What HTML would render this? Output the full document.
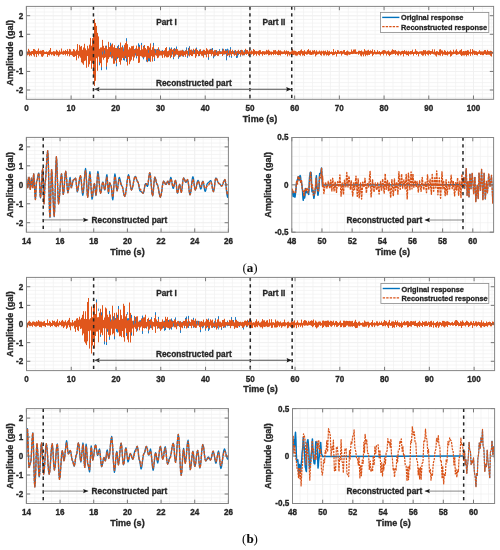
<!DOCTYPE html>
<html><head><meta charset="utf-8"><title>Figure</title>
<style>html,body{margin:0;padding:0;background:#fff;width:500px;height:550px;overflow:hidden} svg{display:block}</style>
</head><body>
<svg width="500" height="550" viewBox="0 0 500 550">
<style>text{font-family:'Liberation Sans', Arial, Helvetica, sans-serif;font-weight:bold;fill:#262626;stroke:#262626;stroke-width:0.3px} .tk{font-size:8.1px} .lb{font-size:9.05px} .lg{font-size:7.35px} .an{font-size:8.25px} .cap{font-family:"Liberation Serif","Times New Roman",serif;font-size:13px;fill:#111;stroke:#111;stroke-width:0.15px} .pr{font-weight:normal;stroke-width:0}</style>
<rect width="500" height="550" fill="#fff"/>
<filter id="bl" x="0" y="0" width="500" height="550" filterUnits="userSpaceOnUse"><feGaussianBlur stdDeviation="0.4"/></filter><g filter="url(#bl)">
<defs>
<clipPath id="cA1"><rect x="26.4" y="6.4" width="467.20000000000005" height="92.89999999999999"/></clipPath>
<clipPath id="cA2"><rect x="26.4" y="137.4" width="202.0" height="94.79999999999998"/></clipPath>
<clipPath id="cA3"><rect x="291.8" y="137.5" width="201.8" height="94.69999999999999"/></clipPath>
<clipPath id="cB1"><rect x="26.5" y="277.4" width="468.1" height="93.20000000000005"/></clipPath>
<clipPath id="cB2"><rect x="26.4" y="408.6" width="202.0" height="94.89999999999998"/></clipPath>
<clipPath id="cB3"><rect x="292.5" y="408.6" width="202.10000000000002" height="94.89999999999998"/></clipPath>
</defs>
<path d="M35.34 6.40V99.30M44.28 6.40V99.30M53.22 6.40V99.30M62.17 6.40V99.30M71.11 6.40V99.30M80.05 6.40V99.30M88.99 6.40V99.30M97.93 6.40V99.30M106.87 6.40V99.30M115.82 6.40V99.30M124.76 6.40V99.30M133.70 6.40V99.30M142.64 6.40V99.30M151.58 6.40V99.30M160.52 6.40V99.30M169.47 6.40V99.30M178.41 6.40V99.30M187.35 6.40V99.30M196.29 6.40V99.30M205.23 6.40V99.30M214.17 6.40V99.30M223.12 6.40V99.30M232.06 6.40V99.30M241.00 6.40V99.30M249.94 6.40V99.30M258.88 6.40V99.30M267.82 6.40V99.30M276.77 6.40V99.30M285.71 6.40V99.30M294.65 6.40V99.30M303.59 6.40V99.30M312.53 6.40V99.30M321.47 6.40V99.30M330.42 6.40V99.30M339.36 6.40V99.30M348.30 6.40V99.30M357.24 6.40V99.30M366.18 6.40V99.30M375.12 6.40V99.30M384.07 6.40V99.30M393.01 6.40V99.30M401.95 6.40V99.30M410.89 6.40V99.30M419.83 6.40V99.30M428.77 6.40V99.30M437.71 6.40V99.30M446.66 6.40V99.30M455.60 6.40V99.30M464.54 6.40V99.30M473.48 6.40V99.30M482.42 6.40V99.30M491.36 6.40V99.30M26.40 97.44H493.60M26.40 93.73H493.60M26.40 90.01H493.60M26.40 86.29H493.60M26.40 82.58H493.60M26.40 78.86H493.60M26.40 75.15H493.60M26.40 71.43H493.60M26.40 67.71H493.60M26.40 64.00H493.60M26.40 60.28H493.60M26.40 56.57H493.60M26.40 52.85H493.60M26.40 49.13H493.60M26.40 45.42H493.60M26.40 41.70H493.60M26.40 37.99H493.60M26.40 34.27H493.60M26.40 30.55H493.60M26.40 26.84H493.60M26.40 23.12H493.60M26.40 19.41H493.60M26.40 15.69H493.60M26.40 11.97H493.60M26.40 8.26H493.60" stroke="#f1f1f1" stroke-width="0.7" fill="none"/>
<path d="M71.11 6.40V99.30M115.82 6.40V99.30M160.52 6.40V99.30M205.23 6.40V99.30M249.94 6.40V99.30M294.65 6.40V99.30M339.36 6.40V99.30M384.07 6.40V99.30M428.77 6.40V99.30M473.48 6.40V99.30M26.40 90.01H493.60M26.40 71.43H493.60M26.40 52.85H493.60M26.40 34.27H493.60M26.40 15.69H493.60" stroke="#efefef" stroke-width="0.7" fill="none"/>
<path d="M34.82 137.40V232.20M43.23 137.40V232.20M51.65 137.40V232.20M60.07 137.40V232.20M68.48 137.40V232.20M76.90 137.40V232.20M85.32 137.40V232.20M93.73 137.40V232.20M102.15 137.40V232.20M110.57 137.40V232.20M118.98 137.40V232.20M127.40 137.40V232.20M135.82 137.40V232.20M144.23 137.40V232.20M152.65 137.40V232.20M161.07 137.40V232.20M169.48 137.40V232.20M177.90 137.40V232.20M186.32 137.40V232.20M194.73 137.40V232.20M203.15 137.40V232.20M211.57 137.40V232.20M219.98 137.40V232.20M26.40 230.30H228.40M26.40 226.51H228.40M26.40 222.72H228.40M26.40 218.93H228.40M26.40 215.14H228.40M26.40 211.34H228.40M26.40 207.55H228.40M26.40 203.76H228.40M26.40 199.97H228.40M26.40 196.18H228.40M26.40 192.38H228.40M26.40 188.59H228.40M26.40 184.80H228.40M26.40 181.01H228.40M26.40 177.22H228.40M26.40 173.42H228.40M26.40 169.63H228.40M26.40 165.84H228.40M26.40 162.05H228.40M26.40 158.26H228.40M26.40 154.46H228.40M26.40 150.67H228.40M26.40 146.88H228.40M26.40 143.09H228.40M26.40 139.30H228.40" stroke="#f1f1f1" stroke-width="0.7" fill="none"/>
<path d="M60.07 137.40V232.20M93.73 137.40V232.20M127.40 137.40V232.20M161.07 137.40V232.20M194.73 137.40V232.20M26.40 222.72H228.40M26.40 203.76H228.40M26.40 184.80H228.40M26.40 165.84H228.40M26.40 146.88H228.40" stroke="#efefef" stroke-width="0.7" fill="none"/>
<path d="M299.34 137.50V232.20M306.88 137.50V232.20M314.42 137.50V232.20M321.96 137.50V232.20M329.51 137.50V232.20M337.05 137.50V232.20M344.59 137.50V232.20M352.13 137.50V232.20M359.67 137.50V232.20M367.21 137.50V232.20M374.75 137.50V232.20M382.29 137.50V232.20M389.83 137.50V232.20M397.38 137.50V232.20M404.92 137.50V232.20M412.46 137.50V232.20M420.00 137.50V232.20M427.54 137.50V232.20M435.08 137.50V232.20M442.62 137.50V232.20M450.16 137.50V232.20M457.70 137.50V232.20M465.25 137.50V232.20M472.79 137.50V232.20M480.33 137.50V232.20M487.87 137.50V232.20M291.80 222.73H493.60M291.80 213.26H493.60M291.80 203.79H493.60M291.80 194.32H493.60M291.80 184.85H493.60M291.80 175.38H493.60M291.80 165.91H493.60M291.80 156.44H493.60M291.80 146.97H493.60" stroke="#f1f1f1" stroke-width="0.7" fill="none"/>
<path d="M321.96 137.50V232.20M352.13 137.50V232.20M382.29 137.50V232.20M412.46 137.50V232.20M442.62 137.50V232.20M472.79 137.50V232.20M291.80 184.85H493.60" stroke="#efefef" stroke-width="0.7" fill="none"/>
<path d="M35.45 277.40V370.60M44.40 277.40V370.60M53.36 277.40V370.60M62.31 277.40V370.60M71.26 277.40V370.60M80.21 277.40V370.60M89.16 277.40V370.60M98.12 277.40V370.60M107.07 277.40V370.60M116.02 277.40V370.60M124.97 277.40V370.60M133.92 277.40V370.60M142.88 277.40V370.60M151.83 277.40V370.60M160.78 277.40V370.60M169.73 277.40V370.60M178.68 277.40V370.60M187.64 277.40V370.60M196.59 277.40V370.60M205.54 277.40V370.60M214.49 277.40V370.60M223.44 277.40V370.60M232.40 277.40V370.60M241.35 277.40V370.60M250.30 277.40V370.60M259.25 277.40V370.60M268.20 277.40V370.60M277.16 277.40V370.60M286.11 277.40V370.60M295.06 277.40V370.60M304.01 277.40V370.60M312.96 277.40V370.60M321.92 277.40V370.60M330.87 277.40V370.60M339.82 277.40V370.60M348.77 277.40V370.60M357.72 277.40V370.60M366.68 277.40V370.60M375.63 277.40V370.60M384.58 277.40V370.60M393.53 277.40V370.60M402.48 277.40V370.60M411.44 277.40V370.60M420.39 277.40V370.60M429.34 277.40V370.60M438.29 277.40V370.60M447.24 277.40V370.60M456.20 277.40V370.60M465.15 277.40V370.60M474.10 277.40V370.60M483.05 277.40V370.60M492.00 277.40V370.60M26.50 368.74H494.60M26.50 365.01H494.60M26.50 361.28H494.60M26.50 357.55H494.60M26.50 353.82H494.60M26.50 350.10H494.60M26.50 346.37H494.60M26.50 342.64H494.60M26.50 338.91H494.60M26.50 335.18H494.60M26.50 331.46H494.60M26.50 327.73H494.60M26.50 324.00H494.60M26.50 320.27H494.60M26.50 316.54H494.60M26.50 312.82H494.60M26.50 309.09H494.60M26.50 305.36H494.60M26.50 301.63H494.60M26.50 297.90H494.60M26.50 294.18H494.60M26.50 290.45H494.60M26.50 286.72H494.60M26.50 282.99H494.60M26.50 279.26H494.60" stroke="#f1f1f1" stroke-width="0.7" fill="none"/>
<path d="M71.26 277.40V370.60M116.02 277.40V370.60M160.78 277.40V370.60M205.54 277.40V370.60M250.30 277.40V370.60M295.06 277.40V370.60M339.82 277.40V370.60M384.58 277.40V370.60M429.34 277.40V370.60M474.10 277.40V370.60M26.50 361.28H494.60M26.50 342.64H494.60M26.50 324.00H494.60M26.50 305.36H494.60M26.50 286.72H494.60" stroke="#efefef" stroke-width="0.7" fill="none"/>
<path d="M34.82 408.60V503.50M43.23 408.60V503.50M51.65 408.60V503.50M60.07 408.60V503.50M68.48 408.60V503.50M76.90 408.60V503.50M85.32 408.60V503.50M93.73 408.60V503.50M102.15 408.60V503.50M110.57 408.60V503.50M118.98 408.60V503.50M127.40 408.60V503.50M135.82 408.60V503.50M144.23 408.60V503.50M152.65 408.60V503.50M161.07 408.60V503.50M169.48 408.60V503.50M177.90 408.60V503.50M186.32 408.60V503.50M194.73 408.60V503.50M203.15 408.60V503.50M211.57 408.60V503.50M219.98 408.60V503.50M26.40 501.60H228.40M26.40 497.81H228.40M26.40 494.01H228.40M26.40 490.21H228.40M26.40 486.42H228.40M26.40 482.62H228.40M26.40 478.83H228.40M26.40 475.03H228.40M26.40 471.23H228.40M26.40 467.44H228.40M26.40 463.64H228.40M26.40 459.85H228.40M26.40 456.05H228.40M26.40 452.25H228.40M26.40 448.46H228.40M26.40 444.66H228.40M26.40 440.87H228.40M26.40 437.07H228.40M26.40 433.27H228.40M26.40 429.48H228.40M26.40 425.68H228.40M26.40 421.89H228.40M26.40 418.09H228.40M26.40 414.29H228.40M26.40 410.50H228.40" stroke="#f1f1f1" stroke-width="0.7" fill="none"/>
<path d="M60.07 408.60V503.50M93.73 408.60V503.50M127.40 408.60V503.50M161.07 408.60V503.50M194.73 408.60V503.50M26.40 494.01H228.40M26.40 475.03H228.40M26.40 456.05H228.40M26.40 437.07H228.40M26.40 418.09H228.40" stroke="#efefef" stroke-width="0.7" fill="none"/>
<path d="M300.04 408.60V503.50M307.58 408.60V503.50M315.12 408.60V503.50M322.66 408.60V503.50M330.21 408.60V503.50M337.75 408.60V503.50M345.29 408.60V503.50M352.83 408.60V503.50M360.37 408.60V503.50M367.91 408.60V503.50M375.45 408.60V503.50M382.99 408.60V503.50M390.53 408.60V503.50M398.07 408.60V503.50M405.62 408.60V503.50M413.16 408.60V503.50M420.70 408.60V503.50M428.24 408.60V503.50M435.78 408.60V503.50M443.32 408.60V503.50M450.86 408.60V503.50M458.40 408.60V503.50M465.94 408.60V503.50M473.49 408.60V503.50M481.03 408.60V503.50M488.57 408.60V503.50M292.50 494.01H494.60M292.50 484.52H494.60M292.50 475.03H494.60M292.50 465.54H494.60M292.50 456.05H494.60M292.50 446.56H494.60M292.50 437.07H494.60M292.50 427.58H494.60M292.50 418.09H494.60" stroke="#f1f1f1" stroke-width="0.7" fill="none"/>
<path d="M322.66 408.60V503.50M352.83 408.60V503.50M382.99 408.60V503.50M413.16 408.60V503.50M443.32 408.60V503.50M473.49 408.60V503.50M292.50 456.05H494.60" stroke="#efefef" stroke-width="0.7" fill="none"/>
<path d="M92.5 38.4V63.1M93.5 34.9V74.8M94.5 18.9V85.8M95.5 27.4V76.7M96.5 29.9V57.4M97.5 35.9V68.2M98.5 38.9V56.1M99.5 49.4V65.3M100.5 48.3V61.6M101.5 48.3V70.2M102.5 41.8V56.8M103.5 46.9V58.7M104.5 48.8V57.3M105.5 46.8V56.6M106.5 45.6V69.6M107.5 49.7V61.1M108.5 43.5V58.2M109.5 48.0V56.6M110.5 42.8V56.2M111.5 45.8V57.5M112.5 44.9V56.5M113.5 48.1V62.2M114.5 46.4V62.1M115.5 48.7V60.7M116.5 48.8V66.3M117.5 46.2V58.8M118.5 44.9V57.2M119.5 48.0V60.5M120.5 44.1V63.0M121.5 48.1V59.3M122.5 45.5V57.2M123.5 49.8V60.1M124.5 46.0V60.6M125.5 44.5V58.1M126.5 38.2V61.8M127.5 45.5V63.6M128.5 50.0V56.4M129.5 48.0V62.5M130.5 49.0V60.1M131.5 47.2V58.8M132.5 47.2V56.0M133.5 46.8V59.5M134.5 49.1V56.8M135.5 49.1V55.0M136.5 46.7V58.4M137.5 49.4V55.6M138.5 43.3V61.4M139.5 44.8V61.1M140.5 50.6V55.7M141.5 42.9V55.9M142.5 49.8V56.9M143.5 45.8V59.3M144.5 46.2V56.7M145.5 48.7V56.1M146.5 50.0V61.6M147.5 47.0V60.8M148.5 47.1V61.2M149.5 48.3V61.2M150.5 44.8V60.5M151.5 50.3V55.6M152.5 48.2V60.2M153.5 42.9V56.2M154.5 48.8V61.0M155.5 49.8V54.9M156.5 49.9V55.3M157.5 48.9V57.4M158.5 48.1V56.9M159.5 49.5V55.2M160.5 51.1V55.0M161.5 51.0V55.1M162.5 50.1V57.2M163.5 51.2V54.3M164.5 50.7V56.9M165.5 48.8V55.7M166.5 48.0V56.6M167.5 51.6V56.8M168.5 51.0V56.5M169.5 47.4V55.1M170.5 49.4V57.4M171.5 47.5V56.8M172.5 50.2V54.2M173.5 49.5V59.2M174.5 48.7V56.1M175.5 49.4V55.7M176.5 46.5V54.3M177.5 49.8V54.5M178.5 51.0V58.8M179.5 51.0V57.2M180.5 50.9V56.0M181.5 50.8V55.7M182.5 50.3V55.9M183.5 50.4V56.8M184.5 51.6V54.8M185.5 50.2V56.2M186.5 47.4V54.0M187.5 51.2V57.8M188.5 47.9V55.5M189.5 46.2V55.9M190.5 50.3V54.6M191.5 50.0V55.5M192.5 50.4V55.6M193.5 49.4V54.0M194.5 50.6V53.9M195.5 49.2V57.1M196.5 47.6V55.7M197.5 50.5V53.9M198.5 51.5V56.2M199.5 49.6V55.5M200.5 49.8V54.0M201.5 51.5V55.2M202.5 50.6V55.4M203.5 50.1V56.9M204.5 50.3V54.8M205.5 51.3V54.5M206.5 48.9V56.6M207.5 49.9V54.2M208.5 50.9V59.8M209.5 50.0V53.8M210.5 48.9V53.8M211.5 49.3V55.3M212.5 48.0V54.0M213.5 51.3V58.3M214.5 50.6V56.6M215.5 50.5V55.3M216.5 50.5V54.6M217.5 51.6V55.4M218.5 51.4V55.3M219.5 49.2V54.0M220.5 51.2V54.2M221.5 51.7V53.9M222.5 48.6V55.5M223.5 49.4V54.6M224.5 51.0V54.1M225.5 49.1V54.0M226.5 49.4V60.3M227.5 48.7V55.5M228.5 51.4V54.8M229.5 50.8V57.3M230.5 47.2V54.6M231.5 51.1V57.8M232.5 50.2V53.8M233.5 51.4V54.2M234.5 51.3V55.2M235.5 50.5V54.5M236.5 51.3V58.0M237.5 51.1V57.7M238.5 50.2V55.2M239.5 51.5V53.8M240.5 50.5V56.6M241.5 50.2V54.2M242.5 50.7V55.1M243.5 51.7V55.4M244.5 51.8V54.9M245.5 49.4V53.9M246.5 50.4V54.8M247.5 50.4V53.7M248.5 51.7V55.3M249.5 50.3V52.9" stroke="#1a7cc8" stroke-width="1.0" fill="none" clip-path="url(#cA1)"/>
<path d="M26.5 51.1V53.9M27.5 51.5V55.4M28.5 48.8V54.7M29.5 50.4V56.2M30.5 51.7V55.2M31.5 51.1V55.8M32.5 51.0V54.0M33.5 49.0V55.3M34.5 49.2V56.7M35.5 50.2V54.1M36.5 51.0V57.1M37.5 50.6V54.0M38.5 48.5V55.5M39.5 51.1V53.8M40.5 50.5V54.2M41.5 50.7V56.5M42.5 50.1V56.9M43.5 50.0V55.6M44.5 51.6V54.1M45.5 51.9V54.0M46.5 51.4V54.0M47.5 51.9V56.9M48.5 51.3V55.0M49.5 50.1V55.5M50.5 48.0V54.1M51.5 51.8V55.3M52.5 51.8V54.5M53.5 51.1V55.6M54.5 51.3V56.0M55.5 51.5V54.3M56.5 49.8V55.4M57.5 50.8V55.2M58.5 51.8V56.7M59.5 50.3V55.4M60.5 51.7V54.5M61.5 48.5V54.1M62.5 51.5V54.5M63.5 50.6V54.9M64.5 51.1V54.2M65.5 50.0V55.4M66.5 51.0V54.0M67.5 49.2V55.8M68.5 51.3V54.0M69.5 48.9V56.3M70.5 49.4V54.9M71.5 51.5V55.0M72.5 51.3V55.8M73.5 49.0V57.0M74.5 49.6V56.9M75.5 51.2V56.0M76.5 49.7V60.3M77.5 44.1V54.9M78.5 50.8V58.4M79.5 44.9V56.3M80.5 46.6V57.7M81.5 46.0V62.3M82.5 49.8V63.4M83.5 47.5V64.8M84.5 43.8V61.1M85.5 48.5V60.5M86.5 50.2V67.8M87.5 45.8V56.0M88.5 48.5V66.8M89.5 44.7V64.3M90.5 37.9V60.8M91.5 45.7V68.8M92.5 38.4V63.1M93.5 34.9V74.8M94.5 18.9V85.8M95.5 22.9V80.8M96.5 25.9V58.2M97.5 32.9V70.8M98.5 36.4V56.7M99.5 48.8V62.3M100.5 47.5V63.2M101.5 47.4V67.2M102.5 39.9V57.6M103.5 45.8V59.7M104.5 48.1V58.0M105.5 45.7V57.3M106.5 47.0V66.6M107.5 49.2V62.6M108.5 41.8V59.1M109.5 47.1V57.3M110.5 45.8V56.8M111.5 44.5V58.3M112.5 43.5V57.2M113.5 47.3V63.8M114.5 45.2V63.7M115.5 48.0V58.9M116.5 48.1V63.3M117.5 48.2V57.1M118.5 46.3V57.9M119.5 49.0V61.9M120.5 42.5V64.7M121.5 47.3V60.4M122.5 46.9V57.9M123.5 49.2V58.1M124.5 44.8V59.0M125.5 43.1V56.2M126.5 41.2V58.8M127.5 44.2V65.5M128.5 49.5V57.0M129.5 47.2V64.2M130.5 48.3V61.4M131.5 46.2V59.8M132.5 46.2V56.6M133.5 45.7V60.7M134.5 50.0V57.5M135.5 48.4V55.4M136.5 45.6V56.6M137.5 48.8V56.0M138.5 46.3V63.0M139.5 47.1V62.6M140.5 50.2V56.1M141.5 45.1V56.5M142.5 49.3V57.6M143.5 47.0V57.2M144.5 45.0V57.4M145.5 48.0V56.7M146.5 49.4V60.0M147.5 46.0V62.2M148.5 46.1V58.2M149.5 47.5V58.5M150.5 43.4V61.8M151.5 49.8V56.1M152.5 47.3V61.5M153.5 45.6V56.8M154.5 50.4V58.4M155.5 49.2V55.3M156.5 49.4V55.7M157.5 50.0V58.2M158.5 47.3V57.6M159.5 50.5V55.6M160.5 50.8V55.4M161.5 50.7V55.5M162.5 51.2V57.9M163.5 50.9V54.6M164.5 50.3V57.6M165.5 48.0V56.2M166.5 47.1V57.3M167.5 51.3V57.4M168.5 50.7V57.1M169.5 49.6V55.5M170.5 48.7V58.2M171.5 48.9V55.6M172.5 49.8V54.5M173.5 48.9V57.5M174.5 48.0V56.7M175.5 48.8V54.6M176.5 49.0V54.5M177.5 49.2V54.8M178.5 50.7V57.5M179.5 50.7V55.8M180.5 50.5V56.6M181.5 50.5V55.2M182.5 49.8V56.4M183.5 51.1V56.0M184.5 51.3V55.1M185.5 50.8V56.8M186.5 49.6V54.2M187.5 50.9V56.2M188.5 49.7V54.7M189.5 47.6V56.4M190.5 49.9V54.9M191.5 49.5V56.0M192.5 51.3V56.1M193.5 48.8V54.2M194.5 50.2V54.1M195.5 48.6V57.9M196.5 49.1V56.3M197.5 50.1V54.0M198.5 51.3V55.5M199.5 50.9V56.0M200.5 49.2V54.2M201.5 51.3V55.6M202.5 51.1V55.8M203.5 49.7V57.6M204.5 49.9V54.4M205.5 51.0V54.8M206.5 48.2V57.3M207.5 49.4V53.9M208.5 50.5V57.4M209.5 49.5V54.0M210.5 50.1V53.9M211.5 48.7V55.7M212.5 49.9V54.2M213.5 51.6V56.5M214.5 50.2V55.4M215.5 50.1V55.8M216.5 50.1V54.9M217.5 51.3V55.9M218.5 51.2V55.8M219.5 50.5V54.2M220.5 51.8V53.9M221.5 51.5V54.0M222.5 50.4V56.0M223.5 48.8V54.2M224.5 50.7V54.4M225.5 50.6V54.2M226.5 50.8V57.3M227.5 50.0V56.0M228.5 51.2V55.2M229.5 50.4V55.8M230.5 49.2V54.2M231.5 51.6V56.1M232.5 49.8V54.0M233.5 51.2V54.4M234.5 51.0V55.7M235.5 50.1V54.8M236.5 51.7V56.1M237.5 50.8V55.8M238.5 49.8V54.3M239.5 51.3V54.0M240.5 50.1V55.7M241.5 49.8V54.4M242.5 50.3V55.5M243.5 51.6V54.8M244.5 51.6V55.3M245.5 48.8V54.1M246.5 49.9V54.1M247.5 50.0V53.8M248.5 51.6V55.8M249.5 49.9V55.6M250.5 51.4V54.1M251.5 50.4V54.6M252.5 51.3V53.9M253.5 49.0V55.8M254.5 49.9V54.8M255.5 51.1V54.1M256.5 51.1V55.8M257.5 51.3V53.8M258.5 50.8V54.9M259.5 50.1V55.7M260.5 50.2V54.1M261.5 51.9V54.2M262.5 51.1V55.8M263.5 51.2V54.2M264.5 51.3V55.0M265.5 51.4V54.3M266.5 49.9V54.5M267.5 50.5V54.0M268.5 49.7V55.4M269.5 50.8V55.1M270.5 51.6V54.4M271.5 51.5V55.3M272.5 51.9V54.0M273.5 50.2V55.2M274.5 50.3V54.1M275.5 50.0V54.8M276.5 51.4V53.9M277.5 51.3V55.0M278.5 49.9V55.3M279.5 50.7V54.9M280.5 50.4V55.6M281.5 51.3V54.1M282.5 51.6V54.2M283.5 51.5V54.0M284.5 50.2V53.9M285.5 51.3V54.9M286.5 50.4V54.0M287.5 51.2V56.3M288.5 50.9V54.4M289.5 51.9V55.6M290.5 51.8V54.6M291.5 51.2V55.6M292.5 49.1V54.9M293.5 50.6V55.0M294.5 50.7V54.6M295.5 50.9V55.5M296.5 51.5V55.7M297.5 51.9V55.5M298.5 51.0V54.4M299.5 51.1V55.1M300.5 50.3V55.7M301.5 49.4V53.8M302.5 51.0V55.6M303.5 51.2V55.2M304.5 50.1V56.0M305.5 51.5V54.0M306.5 51.5V54.7M307.5 50.1V54.5M308.5 49.1V53.9M309.5 50.7V54.6M310.5 50.4V54.9M311.5 51.9V55.0M312.5 50.3V54.6M313.5 50.7V54.5M314.5 50.0V53.8M315.5 51.5V56.4M316.5 50.3V55.2M317.5 51.6V54.4M318.5 51.5V54.2M319.5 50.5V53.8M320.5 51.4V55.1M321.5 50.7V55.7M322.5 51.4V53.7M323.5 50.6V55.4M324.5 51.2V55.5M325.5 50.6V54.3M326.5 51.9V55.6M327.5 50.2V54.9M328.5 51.4V55.8M329.5 50.8V55.1M330.5 52.0V54.1M331.5 51.4V54.0M332.5 52.0V55.4M333.5 49.1V55.1M334.5 51.9V54.8M335.5 50.8V53.9M336.5 52.0V56.5M337.5 50.1V54.0M338.5 50.4V53.8M339.5 51.7V54.0M340.5 51.0V53.7M341.5 50.9V55.6M342.5 51.4V54.2M343.5 50.2V53.8M344.5 50.0V54.7M345.5 52.0V55.0M346.5 51.2V55.3M347.5 50.5V55.6M348.5 51.4V54.5M349.5 51.8V54.9M350.5 51.9V54.4M351.5 49.5V54.0M352.5 51.2V54.1M353.5 49.6V53.9M354.5 49.5V53.8M355.5 49.4V54.0M356.5 51.7V54.1M357.5 52.0V53.7M358.5 50.8V54.8M359.5 50.7V53.8M360.5 51.0V55.6M361.5 50.4V56.4M362.5 51.5V54.6M363.5 51.6V56.3M364.5 49.1V54.4M365.5 50.5V56.2M366.5 50.8V54.9M367.5 50.4V55.5M368.5 49.8V54.8M369.5 51.1V55.0M370.5 50.3V53.8M371.5 51.0V53.7M372.5 49.4V56.1M373.5 51.9V54.8M374.5 50.0V53.9M375.5 51.6V54.4M376.5 51.9V54.4M377.5 50.2V54.2M378.5 51.7V54.2M379.5 51.0V54.4M380.5 52.0V55.6M381.5 51.6V54.1M382.5 50.6V53.9M383.5 50.1V55.4M384.5 50.1V53.8M385.5 50.6V53.7M386.5 51.5V55.6M387.5 51.1V53.9M388.5 50.4V54.9M389.5 51.5V56.1M390.5 51.8V55.0M391.5 50.7V54.4M392.5 49.3V54.3M393.5 50.0V54.0M394.5 50.4V53.8M395.5 50.0V55.1M396.5 51.2V53.9M397.5 51.5V55.3M398.5 50.7V55.6M399.5 51.3V53.9M400.5 51.7V55.4M401.5 51.1V54.6M402.5 50.7V54.0M403.5 51.0V56.4M404.5 50.0V54.0M405.5 51.3V54.2M406.5 50.7V55.2M407.5 51.5V55.0M408.5 50.8V56.0M409.5 51.7V54.1M410.5 51.0V54.6M411.5 51.1V54.3M412.5 49.7V54.0M413.5 52.0V55.7M414.5 51.6V54.0M415.5 49.2V53.9M416.5 50.8V55.0M417.5 51.3V54.0M418.5 51.9V56.3M419.5 51.4V53.9M420.5 51.3V53.7M421.5 51.2V54.8M422.5 51.3V55.7M423.5 50.0V55.5M424.5 50.4V54.3M425.5 50.1V55.8M426.5 51.4V54.0M427.5 50.8V54.7M428.5 50.4V55.5M429.5 50.5V54.0M430.5 51.0V54.9M431.5 51.1V53.8M432.5 49.3V53.9M433.5 51.7V54.3M434.5 49.4V54.6M435.5 51.8V55.6M436.5 51.1V56.6M437.5 51.2V54.5M438.5 51.9V55.2M439.5 49.5V55.3M440.5 49.2V55.7M441.5 50.4V53.8M442.5 50.5V55.9M443.5 51.8V54.5M444.5 50.1V54.7M445.5 50.8V55.1M446.5 52.0V54.9M447.5 50.8V55.6M448.5 51.8V54.4M449.5 51.4V54.1M450.5 50.3V56.6M451.5 51.4V55.9M452.5 51.9V54.6M453.5 49.7V54.2M454.5 51.6V53.9M455.5 50.5V54.2M456.5 49.3V55.1M457.5 51.2V54.6M458.5 51.9V54.3M459.5 50.7V53.9M460.5 50.1V54.8M461.5 49.2V56.0M462.5 51.5V55.4M463.5 51.0V55.4M464.5 51.2V55.5M465.5 50.8V54.9M466.5 50.9V56.3M467.5 50.1V55.0M468.5 50.4V55.5M469.5 51.8V53.8M470.5 49.2V55.9M471.5 52.0V53.8M472.5 49.1V55.3M473.5 50.5V53.8M474.5 50.6V55.0M475.5 51.1V54.7M476.5 51.2V55.1M477.5 51.9V55.5M478.5 51.5V54.0M479.5 50.2V53.9M480.5 51.3V55.0M481.5 51.4V54.7M482.5 51.5V55.2M483.5 51.3V55.2M484.5 50.1V54.1M485.5 50.1V54.4M486.5 51.4V55.0M487.5 49.9V54.7M488.5 51.1V54.7M489.5 51.2V54.8M490.5 50.7V55.8M491.5 51.1V56.5M492.5 51.8V53.7" stroke="#E0561C" stroke-width="1.0" fill="none" clip-path="url(#cA1)"/>
<path d="M102.5 51.6v2.9M104.5 50.4v3.3M110.5 52.0v2.7M112.5 55.8v2.6M123.5 47.4v3.8M135.5 53.4v2.0M148.5 50.2v2.6M155.5 50.4v2.7M172.5 51.7v2.0M174.5 48.2v2.8M188.5 50.6v3.6M194.5 49.9v3.0M216.5 50.5v2.0M226.5 53.0v4.0M228.5 49.5v3.8M234.5 50.3v3.1M237.5 53.0v2.8M240.5 50.6v1.6M244.5 50.0v2.4" stroke="#2a7fc4" stroke-width="1" fill="none" opacity="0.8" clip-path="url(#cA1)"/>
<path d="M93.5 305.7V338.3M94.5 304.2V348.3M95.5 314.0V335.9M96.5 299.5V330.5M97.5 318.3V330.4M98.5 318.1V339.6M99.5 314.4V328.9M100.5 311.0V336.8M101.5 312.3V331.4M102.5 308.0V333.5M103.5 320.5V327.6M104.5 318.5V344.4M105.5 310.0V327.8M106.5 310.8V345.0M107.5 316.1V331.8M108.5 318.1V333.3M109.5 310.9V339.8M110.5 315.9V333.6M111.5 320.2V328.0M112.5 308.4V332.9M113.5 316.2V331.9M114.5 314.5V339.3M115.5 318.1V328.0M116.5 314.2V331.8M117.5 314.8V332.6M118.5 306.0V331.0M119.5 320.5V334.4M120.5 311.7V334.1M121.5 316.6V335.1M122.5 319.5V330.0M123.5 306.9V335.3M124.5 308.5V339.0M125.5 317.6V327.7M126.5 315.6V336.0M127.5 318.3V337.3M128.5 318.2V339.5M129.5 305.7V330.9M130.5 314.6V339.7M131.5 314.9V335.6M132.5 321.3V327.9M133.5 321.5V334.0M134.5 317.1V326.8M135.5 317.1V328.0M136.5 317.6V330.6M137.5 317.5V330.6M138.5 321.9V326.4M139.5 320.5V329.3M140.5 320.2V327.0M141.5 319.2V326.1M142.5 315.6V333.9M143.5 318.4V327.4M144.5 318.3V327.9M145.5 316.1V327.4M146.5 322.2V328.6M147.5 319.7V326.1M148.5 318.7V333.4M149.5 319.9V328.7M150.5 320.1V327.2M151.5 317.2V327.6M152.5 321.8V329.1M153.5 322.3V326.0M154.5 319.0V326.3M155.5 312.2V331.5M156.5 320.2V325.9M157.5 321.2V328.1M158.5 316.9V328.2M159.5 322.2V328.0M160.5 322.3V329.9M161.5 322.1V328.7M162.5 320.1V328.0M163.5 321.7V327.9M164.5 320.7V330.8M165.5 317.9V330.1M166.5 319.6V326.8M167.5 318.2V327.2M168.5 320.0V327.6M169.5 320.2V329.8M170.5 320.1V327.9M171.5 318.5V329.6M172.5 320.5V326.4M173.5 321.5V325.5M174.5 320.0V326.8M175.5 317.4V326.8M176.5 322.6V328.4M177.5 321.6V325.9M178.5 321.3V325.9M179.5 321.3V326.4M180.5 321.6V332.9M181.5 322.5V326.9M182.5 321.8V327.6M183.5 321.4V325.3M184.5 321.5V328.1M185.5 317.9V325.6M186.5 316.5V327.8M187.5 321.4V327.2M188.5 315.9V327.9M189.5 321.7V325.5M190.5 322.4V325.7M191.5 320.1V327.6M192.5 320.4V325.3M193.5 317.8V327.8M194.5 321.2V326.8M195.5 319.5V327.3M196.5 321.4V327.2M197.5 321.3V325.3M198.5 320.9V325.3M199.5 321.7V326.6M200.5 321.9V332.2M201.5 321.5V326.3M202.5 322.2V328.3M203.5 320.2V327.4M204.5 322.7V325.3M205.5 321.8V330.7M206.5 319.7V327.6M207.5 320.3V327.2M208.5 318.5V331.0M209.5 322.2V329.6M210.5 320.0V325.3M211.5 321.1V327.1M212.5 320.2V327.3M213.5 322.8V327.1M214.5 322.1V327.9M215.5 318.3V326.7M216.5 322.6V328.8M217.5 320.2V327.6M218.5 316.2V325.7M219.5 322.0V327.0M220.5 322.0V326.5M221.5 322.9V329.8M222.5 320.7V325.9M223.5 320.5V328.0M224.5 319.6V327.0M225.5 322.2V327.6M226.5 322.5V325.3M227.5 320.7V326.3M228.5 322.6V325.9M229.5 320.5V325.6M230.5 321.0V327.5M231.5 317.1V325.7M232.5 320.7V325.5M233.5 320.0V325.9M234.5 322.7V328.1M235.5 317.1V326.9M236.5 320.5V327.1M237.5 321.6V327.4M238.5 322.0V325.9M239.5 322.0V327.1M240.5 322.1V325.3M241.5 322.7V325.8M242.5 322.1V327.3M243.5 322.5V329.5M244.5 321.3V326.1M245.5 321.1V325.1M246.5 321.5V327.2M247.5 320.4V326.3M248.5 320.8V325.1M249.5 319.6V327.1M250.5 320.3V324.0" stroke="#1a7cc8" stroke-width="1.0" fill="none" clip-path="url(#cB1)"/>
<path d="M27.5 322.7V327.5M28.5 321.6V325.3M29.5 320.8V326.2M30.5 321.9V326.2M31.5 322.8V325.8M32.5 321.6V326.8M33.5 321.4V325.2M34.5 321.8V326.1M35.5 322.2V326.7M36.5 321.2V326.6M37.5 321.7V325.9M38.5 320.1V325.7M39.5 321.3V327.0M40.5 321.5V326.9M41.5 321.5V327.4M42.5 322.2V325.8M43.5 321.5V326.1M44.5 320.9V326.3M45.5 323.0V327.0M46.5 323.0V325.0M47.5 319.4V325.7M48.5 323.0V325.6M49.5 321.0V325.7M50.5 321.8V327.0M51.5 323.0V326.0M52.5 320.4V326.3M53.5 321.1V325.0M54.5 320.8V326.2M55.5 322.2V326.8M56.5 321.3V327.2M57.5 319.3V326.1M58.5 322.7V326.7M59.5 321.0V325.3M60.5 322.2V325.1M61.5 320.8V326.4M62.5 319.9V326.3M63.5 321.4V328.1M64.5 321.7V326.8M65.5 320.3V325.6M66.5 322.3V328.9M67.5 321.1V327.7M68.5 319.8V325.3M69.5 317.9V327.2M70.5 322.2V330.3M71.5 322.6V325.9M72.5 320.0V326.5M73.5 322.3V325.7M74.5 320.9V328.6M75.5 320.6V331.9M76.5 318.6V327.0M77.5 318.1V330.2M78.5 319.7V331.1M79.5 316.7V326.4M80.5 319.4V329.0M81.5 317.8V328.5M82.5 314.8V335.3M83.5 311.2V333.5M84.5 318.9V341.7M85.5 311.3V343.4M86.5 319.0V345.1M87.5 302.0V341.3M88.5 298.0V331.1M89.5 319.3V348.6M90.5 318.2V330.5M91.5 306.5V353.5M92.5 317.2V345.5M93.5 305.7V338.3M94.5 304.2V348.3M95.5 314.0V335.9M96.5 302.5V331.6M97.5 317.3V331.5M98.5 317.1V342.3M99.5 312.7V329.8M100.5 308.8V334.6M101.5 315.3V332.7M102.5 305.2V335.2M103.5 319.9V328.2M104.5 317.5V341.4M105.5 307.5V328.4M106.5 308.5V342.0M107.5 314.7V329.4M108.5 317.1V334.9M109.5 313.9V336.8M110.5 314.5V335.3M111.5 319.5V328.7M112.5 305.7V334.4M113.5 318.0V333.3M114.5 312.9V336.3M115.5 319.6V328.7M116.5 312.5V329.0M117.5 317.8V329.6M118.5 309.0V332.3M119.5 319.9V336.3M120.5 309.6V335.9M121.5 315.2V337.1M122.5 318.8V331.0M123.5 303.8V337.3M124.5 305.8V341.7M125.5 316.4V328.4M126.5 314.1V333.0M127.5 320.4V339.6M128.5 320.1V342.3M129.5 302.5V332.1M130.5 312.9V342.5M131.5 317.9V332.6M132.5 320.8V328.6M133.5 321.1V335.8M134.5 315.9V327.3M135.5 319.6V328.8M136.5 316.5V331.8M137.5 316.3V328.6M138.5 321.6V326.8M139.5 321.5V330.3M140.5 321.4V327.5M141.5 318.4V326.5M142.5 318.6V330.9M143.5 317.4V328.0M144.5 317.3V328.5M145.5 314.7V328.0M146.5 321.9V327.4M147.5 319.0V326.5M148.5 317.8V330.6M149.5 320.9V329.5M150.5 319.4V327.8M151.5 319.1V328.3M152.5 321.5V330.0M153.5 322.1V326.4M154.5 318.1V326.7M155.5 315.2V332.9M156.5 319.5V326.2M157.5 321.9V328.8M158.5 319.1V327.4M159.5 321.9V328.7M160.5 322.0V330.9M161.5 321.8V329.5M162.5 319.4V328.6M163.5 321.3V326.4M164.5 321.9V328.9M165.5 316.8V327.7M166.5 318.9V327.3M167.5 317.1V327.8M168.5 321.6V328.2M169.5 319.5V328.4M170.5 319.4V328.6M171.5 320.7V327.4M172.5 321.6V326.8M173.5 321.0V325.8M174.5 319.3V327.3M175.5 319.8V327.3M176.5 322.3V329.2M177.5 321.2V326.3M178.5 320.9V325.5M179.5 322.4V326.9M180.5 321.2V330.3M181.5 322.3V327.4M182.5 322.4V328.2M183.5 320.9V325.5M184.5 321.0V326.8M185.5 319.5V325.9M186.5 318.9V328.5M187.5 322.3V327.7M188.5 318.7V326.4M189.5 321.3V325.8M190.5 322.2V326.0M191.5 319.4V328.2M192.5 319.8V325.6M193.5 319.8V326.5M194.5 320.7V327.3M195.5 318.7V327.9M196.5 320.9V327.7M197.5 320.8V325.5M198.5 321.9V325.5M199.5 321.3V327.1M200.5 321.6V329.9M201.5 321.1V326.7M202.5 321.8V326.6M203.5 319.6V326.4M204.5 322.5V325.5M205.5 321.5V329.2M206.5 318.9V328.2M207.5 319.6V326.0M208.5 319.8V328.2M209.5 321.8V328.5M210.5 319.3V325.5M211.5 320.5V327.7M212.5 319.6V327.9M213.5 322.6V326.4M214.5 321.7V326.6M215.5 319.8V327.2M216.5 322.4V329.6M217.5 319.5V328.2M218.5 318.9V326.0M219.5 321.6V327.5M220.5 321.6V326.9M221.5 322.7V328.4M222.5 320.1V326.2M223.5 319.9V327.0M224.5 318.8V327.5M225.5 321.9V326.2M226.5 322.2V325.5M227.5 321.7V325.4M228.5 322.3V325.5M229.5 319.9V325.8M230.5 320.4V328.2M231.5 319.3V326.1M232.5 320.1V325.8M233.5 321.4V326.2M234.5 322.5V328.9M235.5 319.9V327.5M236.5 319.8V327.7M237.5 321.2V328.0M238.5 321.6V326.3M239.5 322.3V326.1M240.5 321.7V325.5M241.5 322.4V326.1M242.5 321.8V327.9M243.5 322.2V327.5M244.5 320.8V326.5M245.5 320.5V325.3M246.5 321.1V325.9M247.5 319.8V326.7M248.5 322.0V325.3M249.5 318.8V327.7M250.5 321.7V328.0M251.5 320.5V327.9M252.5 322.7V328.0M253.5 322.2V325.4M254.5 322.5V327.1M255.5 321.2V327.4M256.5 319.3V326.4M257.5 321.7V327.1M258.5 320.9V325.3M259.5 322.6V326.3M260.5 322.4V327.3M261.5 321.4V327.2M262.5 319.1V328.5M263.5 320.4V326.7M264.5 320.3V327.0M265.5 321.9V326.7M266.5 320.6V326.3M267.5 320.2V327.1M268.5 322.7V326.9M269.5 319.2V326.5M270.5 322.6V325.6M271.5 319.2V327.9M272.5 322.3V327.7M273.5 322.2V325.2M274.5 322.8V327.4M275.5 319.5V327.5M276.5 321.5V327.5M277.5 320.7V327.1M278.5 321.5V325.6M279.5 322.2V326.9M280.5 321.4V325.8M281.5 322.7V327.8M282.5 322.4V326.5M283.5 322.1V326.1M284.5 319.6V326.5M285.5 322.3V326.3M286.5 322.7V325.2M287.5 321.9V328.3M288.5 321.5V327.7M289.5 322.6V326.2M290.5 322.6V326.9M291.5 320.7V327.7M292.5 322.0V327.0M293.5 321.5V327.6M294.5 320.4V327.4M295.5 322.8V325.3M296.5 322.3V328.2M297.5 320.5V325.1M298.5 322.5V327.1M299.5 322.8V325.3M300.5 322.8V326.9M301.5 319.6V325.6M302.5 322.9V327.5M303.5 321.2V325.3M304.5 320.0V325.8M305.5 320.3V325.5M306.5 320.9V325.4M307.5 322.5V325.8M308.5 320.8V325.4M309.5 321.7V325.1M310.5 321.0V325.3M311.5 320.3V325.9M312.5 320.8V327.2M313.5 319.5V326.3M314.5 322.8V325.1M315.5 320.6V327.1M316.5 321.6V328.4M317.5 322.5V327.5M318.5 321.6V326.7M319.5 321.4V325.2M320.5 321.6V325.9M321.5 322.9V325.4M322.5 320.7V327.9M323.5 320.5V327.0M324.5 321.2V325.6M325.5 320.9V326.6M326.5 320.9V327.2M327.5 320.5V326.8M328.5 320.6V327.0M329.5 321.8V325.1M330.5 320.7V326.3M331.5 321.0V326.8M332.5 321.7V325.7M333.5 320.6V325.0M334.5 322.8V326.6M335.5 321.2V325.1M336.5 321.0V326.9M337.5 322.2V326.8M338.5 322.9V325.9M339.5 321.7V325.1M340.5 320.6V327.2M341.5 322.8V327.0M342.5 323.0V325.5M343.5 320.7V327.3M344.5 320.7V327.2M345.5 321.2V327.0M346.5 320.8V325.7M347.5 321.0V325.4M348.5 321.1V326.6M349.5 320.9V326.5M350.5 321.2V326.7M351.5 321.2V326.4M352.5 320.9V326.8M353.5 322.9V326.0M354.5 321.5V326.7M355.5 319.8V328.1M356.5 321.9V328.0M357.5 322.9V327.7M358.5 321.7V325.6M359.5 321.4V326.2M360.5 322.8V325.3M361.5 323.0V325.2M362.5 322.4V326.5M363.5 322.7V326.8M364.5 320.5V326.9M365.5 321.5V326.5M366.5 321.9V326.6M367.5 321.7V325.3M368.5 321.7V327.8M369.5 322.8V326.6M370.5 322.8V325.0M371.5 322.0V326.4M372.5 320.2V326.9M373.5 322.9V325.3M374.5 322.3V327.1M375.5 322.9V325.5M376.5 321.3V325.4M377.5 321.4V326.3M378.5 322.9V325.8M379.5 321.6V325.2M380.5 322.8V325.0M381.5 321.3V325.0M382.5 322.8V326.3M383.5 321.8V326.1M384.5 320.0V325.6M385.5 321.1V326.3M386.5 321.3V325.0M387.5 322.7V326.4M388.5 321.7V328.0M389.5 319.9V325.4M390.5 323.0V325.9M391.5 321.6V325.8M392.5 321.4V327.9M393.5 321.3V327.2M394.5 322.1V327.7M395.5 320.3V325.0M396.5 322.0V327.0M397.5 320.7V325.4M398.5 322.4V326.1M399.5 322.3V327.1M400.5 323.0V326.5M401.5 321.4V327.9M402.5 322.8V327.0M403.5 321.9V325.1M404.5 320.9V325.5M405.5 322.2V325.4M406.5 321.4V325.1M407.5 321.0V327.3M408.5 321.4V327.1M409.5 322.4V326.0M410.5 321.2V326.4M411.5 321.0V326.7M412.5 321.5V325.0M413.5 321.2V325.1M414.5 321.4V326.1M415.5 320.8V326.0M416.5 323.0V326.3M417.5 322.7V327.5M418.5 321.9V326.0M419.5 320.9V327.0M420.5 322.3V325.7M421.5 323.0V325.9M422.5 321.1V327.0M423.5 322.1V325.0M424.5 321.7V326.4M425.5 321.3V326.2M426.5 321.2V325.9M427.5 322.7V326.1M428.5 321.5V325.0M429.5 322.0V327.1M430.5 321.2V326.5M431.5 320.8V327.0M432.5 322.5V325.1M433.5 321.2V327.7M434.5 322.9V325.2M435.5 322.9V327.1M436.5 322.0V327.5M437.5 321.2V325.8M438.5 322.6V327.9M439.5 321.8V326.5M440.5 322.1V325.0M441.5 322.8V326.5M442.5 320.9V325.8M443.5 320.9V326.7M444.5 321.2V327.4M445.5 321.8V326.5M446.5 321.4V325.8M447.5 321.1V327.0M448.5 321.7V325.0M449.5 322.2V325.2M450.5 322.9V325.7M451.5 322.4V325.0M452.5 321.8V325.7M453.5 323.0V325.6M454.5 321.5V325.0M455.5 320.2V326.2M456.5 320.0V326.0M457.5 320.8V325.0M458.5 322.1V326.3M459.5 323.1V326.0M460.5 321.2V325.9M461.5 321.7V327.9M462.5 320.4V326.0M463.5 321.8V325.6M464.5 322.9V325.6M465.5 322.0V326.5M466.5 320.7V325.2M467.5 321.2V325.2M468.5 322.1V327.0M469.5 322.9V326.2M470.5 321.5V325.5M471.5 321.5V325.0M472.5 322.9V327.9M473.5 321.0V325.5M474.5 322.9V326.2M475.5 321.4V325.5M476.5 321.4V326.7M477.5 322.3V325.9M478.5 321.6V325.1M479.5 322.1V326.0M480.5 322.3V327.5M481.5 320.3V327.6M482.5 322.6V326.0M483.5 321.6V326.5M484.5 322.9V327.0M485.5 323.0V326.2M486.5 321.4V326.1M487.5 322.5V326.8M488.5 322.0V325.4M489.5 321.6V325.2M490.5 322.1V326.3M491.5 323.0V326.3M492.5 321.5V325.1M493.5 321.8V325.2M494.5 322.9V327.6" stroke="#E0561C" stroke-width="1.0" fill="none" clip-path="url(#cB1)"/>
<path d="M98.5 308.5v2.6M110.5 318.7v2.7M113.5 317.8v2.7M127.5 312.0v2.8M133.5 320.6v4.0M135.5 320.8v2.5M150.5 325.1v3.0M173.5 323.2v3.5M177.5 324.0v1.8M189.5 323.7v1.8M196.5 320.9v3.3M198.5 322.3v2.6M214.5 320.9v2.5M218.5 325.8v3.7" stroke="#2a7fc4" stroke-width="1" fill="none" opacity="0.8" clip-path="url(#cB1)"/>
<polyline points="26.0,174.8 26.3,176.0 26.7,179.2 27.0,183.2 27.4,186.4 27.7,187.6 28.0,186.6 28.3,184.0 28.5,180.9 28.8,178.3 29.1,177.3 29.3,178.4 29.6,181.4 29.8,185.2 30.1,188.2 30.3,189.3 30.5,188.2 30.8,185.5 31.0,182.0 31.3,179.3 31.5,178.2 31.8,179.1 32.0,181.4 32.3,184.4 32.5,186.7 32.8,187.6 33.0,186.3 33.2,182.9 33.3,178.6 33.5,175.2 33.7,173.9 34.0,176.3 34.4,182.7 34.7,190.7 35.1,197.1 35.4,199.5 35.6,197.8 35.9,193.3 36.1,187.8 36.4,183.3 36.6,181.6 37.0,180.8 37.5,178.6 37.9,176.0 38.4,173.8 38.8,173.0 39.1,175.4 39.5,181.6 39.8,189.2 40.2,195.4 40.5,197.8 40.9,195.0 41.3,187.8 41.8,178.8 42.2,171.6 42.6,168.8 42.9,172.1 43.2,180.9 43.4,191.7 43.7,200.5 44.0,203.8 44.2,201.8 44.4,196.4 44.7,189.8 44.9,184.4 45.1,182.4 45.6,179.4 46.1,171.5 46.7,161.7 47.2,153.8 47.7,150.8 48.2,157.2 48.6,173.8 49.1,194.5 49.5,211.1 50.0,217.5 50.3,212.9 50.6,201.0 51.0,186.1 51.3,174.2 51.6,169.6 52.1,174.1 52.6,185.8 53.2,200.4 53.7,212.1 54.2,216.6 54.6,210.9 55.1,195.9 55.5,177.5 56.0,162.5 56.4,156.8 56.8,161.3 57.2,173.0 57.7,187.6 58.1,199.3 58.5,203.8 59.1,200.9 59.7,193.5 60.3,184.2 60.9,176.8 61.5,173.9 61.9,175.9 62.2,181.0 62.6,187.3 62.9,192.4 63.3,194.4 63.8,192.2 64.3,186.4 64.7,179.3 65.2,173.5 65.7,171.3 66.1,173.3 66.6,178.7 67.0,185.3 67.5,190.7 67.9,192.7 68.3,191.2 68.8,187.4 69.2,182.7 69.7,178.8 70.1,177.4 70.3,178.3 70.6,180.9 70.8,184.1 71.1,186.6 71.3,187.6 71.7,186.9 72.2,184.9 72.6,182.6 73.1,180.6 73.5,179.9 73.9,179.7 74.3,179.3 74.8,178.8 75.2,178.4 75.6,178.2 75.9,179.5 76.3,183.0 76.6,187.2 77.0,190.7 77.3,192.0 77.9,190.4 78.5,186.3 79.2,181.3 79.8,177.2 80.4,175.6 80.9,177.5 81.4,182.4 81.8,188.5 82.3,193.4 82.8,195.3 83.4,192.7 83.9,186.0 84.5,177.8 85.0,171.1 85.6,168.5 86.0,171.2 86.4,178.4 86.9,187.3 87.3,194.5 87.7,197.2 88.1,194.8 88.6,188.4 89.0,180.5 89.5,174.1 89.9,171.7 90.3,174.3 90.7,181.2 91.2,189.7 91.6,196.6 92.0,199.2 92.5,197.7 93.0,193.8 93.4,189.0 93.9,185.1 94.4,183.6 94.7,184.7 95.0,187.7 95.4,191.4 95.7,194.3 96.0,195.5 96.4,193.2 96.8,187.2 97.1,179.7 97.5,173.7 97.9,171.4 98.4,173.5 98.9,178.9 99.5,185.7 100.0,191.1 100.5,193.2 101.0,192.1 101.5,189.3 101.9,185.9 102.4,183.1 102.9,182.0 103.3,182.8 103.7,184.8 104.0,187.2 104.4,189.2 104.8,190.0 105.2,188.5 105.6,184.7 106.1,179.9 106.5,176.0 106.9,174.6 107.2,176.4 107.5,181.1 107.9,186.9 108.2,191.6 108.5,193.4 108.7,192.4 108.9,189.7 109.2,186.5 109.4,183.8 109.6,182.8 109.9,183.0 110.1,183.6 110.4,184.4 110.6,185.0 110.9,185.2 111.3,186.6 111.7,190.3 112.0,194.8 112.4,198.5 112.8,199.9 113.2,197.4 113.6,190.8 114.1,182.8 114.5,176.2 114.9,173.8 115.3,175.4 115.8,179.6 116.2,184.9 116.7,189.2 117.1,190.8 117.5,189.5 117.9,186.2 118.4,182.0 118.8,178.7 119.2,177.4 119.7,178.2 120.3,180.4 120.8,183.0 121.4,185.2 121.9,186.0 122.5,187.0 123.1,189.6 123.6,192.8 124.2,195.4 124.8,196.4 125.5,194.3 126.3,188.9 127.0,182.2 127.8,176.8 128.5,174.7 129.1,176.2 129.7,180.0 130.3,184.7 130.9,188.5 131.5,190.0 132.2,188.7 133.0,185.3 133.7,181.1 134.5,177.7 135.2,176.4 135.7,176.9 136.3,178.3 136.8,180.1 137.4,181.5 137.9,182.0 138.3,182.8 138.7,185.1 139.2,187.8 139.6,190.0 140.0,190.9 140.6,191.1 141.3,191.7 141.9,192.4 142.6,193.0 143.2,193.2 143.7,192.3 144.2,189.9 144.6,186.9 145.1,184.5 145.6,183.6 146.0,183.9 146.4,184.6 146.7,185.4 147.1,186.1 147.5,186.4 148.0,185.1 148.4,181.7 148.9,177.5 149.3,174.1 149.8,172.8 150.4,175.0 150.9,180.8 151.5,187.9 152.0,193.6 152.6,195.8 153.0,194.0 153.5,189.4 153.9,183.6 154.4,179.0 154.8,177.2 155.3,177.9 155.8,179.7 156.2,181.9 156.7,183.7 157.2,184.4 157.8,185.6 158.5,188.8 159.1,192.8 159.8,196.0 160.4,197.2 161.0,195.7 161.7,191.7 162.3,186.7 163.0,182.7 163.6,181.2 164.1,181.5 164.6,182.3 165.0,183.3 165.5,184.1 166.0,184.4 166.4,184.1 166.8,183.3 167.1,182.3 167.5,181.5 167.9,181.2 168.2,181.5 168.4,182.3 168.7,183.3 168.9,184.1 169.2,184.4 169.5,183.7 169.8,181.9 170.2,179.8 170.5,178.0 170.8,177.3 171.3,178.4 171.8,181.1 172.2,184.5 172.7,187.3 173.2,188.4 173.7,187.6 174.2,185.6 174.6,183.1 175.1,181.2 175.6,180.4 176.0,181.6 176.4,184.8 176.7,188.8 177.1,192.0 177.5,193.2 177.9,192.4 178.3,190.2 178.8,187.4 179.2,185.2 179.6,184.4 179.9,185.2 180.2,187.2 180.6,189.6 180.9,191.6 181.2,192.4 181.7,191.0 182.2,187.4 182.6,183.0 183.1,179.4 183.6,178.0 184.1,178.4 184.6,179.5 185.0,180.9 185.5,182.0 186.0,182.4 186.3,182.1 186.6,181.4 187.0,180.6 187.3,179.9 187.6,179.6 188.1,181.1 188.6,184.9 189.0,189.5 189.5,193.3 190.0,194.8 190.6,193.1 191.2,188.6 191.7,183.0 192.3,178.5 192.9,176.7 193.4,178.0 193.9,181.3 194.3,185.4 194.8,188.7 195.3,190.0 195.8,189.1 196.4,186.7 196.9,183.7 197.5,181.3 198.0,180.4 198.6,181.2 199.2,183.3 199.7,186.0 200.3,188.2 200.9,189.0 201.3,188.3 201.7,186.3 202.0,183.9 202.4,181.9 202.8,181.2 203.3,182.2 203.8,184.7 204.2,187.8 204.7,190.4 205.2,191.4 205.7,190.6 206.2,188.5 206.6,186.0 207.1,184.0 207.6,183.2 208.2,182.9 208.9,182.3 209.5,181.5 210.2,180.9 210.8,180.6 211.3,181.7 211.9,184.4 212.4,187.8 213.0,190.6 213.5,191.6 214.0,190.3 214.5,186.9 214.9,182.7 215.4,179.3 215.9,178.0 216.5,178.5 217.2,179.9 217.8,181.7 218.5,183.1 219.1,183.6 219.6,183.8 220.1,184.4 220.7,185.2 221.2,185.8 221.7,186.0 222.3,185.4 223.0,183.8 223.6,181.8 224.3,180.2 224.9,179.6 225.4,181.3 226.0,185.7 226.5,191.2 227.1,195.6 227.6,197.3 227.9,196.3 228.2,193.9 228.4,191.0 228.7,188.6 229.0,187.7" stroke="#0072BD" stroke-width="1.25" fill="none" stroke-linejoin="round" clip-path="url(#cA2)"/>
<polyline points="26.0,174.8 26.3,176.0 26.7,179.2 27.0,183.2 27.4,186.4 27.7,187.6 28.0,186.6 28.3,184.0 28.5,180.9 28.8,178.3 29.1,177.3 29.3,178.4 29.6,181.4 29.8,185.2 30.1,188.2 30.3,189.3 30.5,188.2 30.8,185.5 31.0,182.0 31.3,179.3 31.5,178.2 31.8,179.1 32.0,181.4 32.3,184.4 32.5,186.7 32.8,187.6 33.0,186.3 33.2,182.9 33.3,178.6 33.5,175.2 33.7,173.9 34.0,176.3 34.4,182.7 34.7,190.7 35.1,197.1 35.4,199.5 35.6,197.8 35.9,193.3 36.1,187.8 36.4,183.3 36.6,181.6 37.0,180.8 37.5,178.6 37.9,176.0 38.4,173.8 38.8,173.0 39.1,175.4 39.5,181.6 39.8,189.2 40.2,195.4 40.5,197.8 40.9,195.0 41.3,187.8 41.8,178.8 42.2,171.6 42.6,168.8 42.9,172.1 43.2,180.9 43.4,191.7 43.7,200.5 44.0,203.8 44.2,201.8 44.4,196.4 44.7,189.8 44.9,184.4 45.1,182.4 45.6,179.4 46.1,171.5 46.7,161.7 47.2,153.8 47.7,150.8 48.2,157.2 48.6,173.8 49.1,194.5 49.5,211.1 50.0,217.5 50.3,212.9 50.6,201.0 51.0,186.1 51.3,174.2 51.6,169.6 52.1,174.1 52.6,185.8 53.2,200.4 53.7,212.1 54.2,216.6 54.6,210.9 55.1,195.9 55.5,177.5 56.0,162.5 56.4,156.8 56.8,161.3 57.2,173.0 57.7,187.6 58.1,199.3 58.5,203.8 59.1,200.9 59.7,193.5 60.3,184.2 60.9,176.8 61.5,173.9 61.9,175.9 62.2,181.0 62.6,187.3 62.9,192.4 63.3,194.4 63.8,192.2 64.3,186.4 64.7,179.3 65.2,173.5 65.7,171.3 66.1,173.3 66.6,178.7 67.0,185.3 67.5,190.7 67.9,192.7 68.3,191.5 68.8,188.3 69.2,184.3 69.7,181.1 70.1,179.9 70.3,180.6 70.6,182.6 70.8,184.9 71.1,186.9 71.3,187.6 71.7,186.9 72.2,184.9 72.6,182.6 73.1,180.6 73.5,179.9 73.9,179.7 74.3,179.3 74.8,178.8 75.2,178.4 75.6,178.2 75.9,179.4 76.3,182.6 76.6,186.6 77.0,189.8 77.3,191.0 77.9,189.5 78.5,185.7 79.2,180.9 79.8,177.1 80.4,175.6 80.9,177.2 81.4,181.4 81.8,186.7 82.3,190.9 82.8,192.5 83.4,190.4 83.9,185.0 84.5,178.3 85.0,172.9 85.6,170.8 86.0,173.3 86.4,179.9 86.9,188.1 87.3,194.7 87.7,197.2 88.1,195.0 88.6,189.2 89.0,182.0 89.5,176.2 89.9,174.0 90.3,176.1 90.7,181.7 91.2,188.7 91.6,194.3 92.0,196.4 92.5,195.2 93.0,192.0 93.4,188.0 93.9,184.8 94.4,183.6 94.7,184.7 95.0,187.5 95.4,190.9 95.7,193.7 96.0,194.8 96.4,192.8 96.8,187.6 97.1,181.2 97.5,176.0 97.9,174.0 98.4,175.8 98.9,180.6 99.5,186.6 100.0,191.4 100.5,193.2 101.0,192.1 101.5,189.3 101.9,185.9 102.4,183.1 102.9,182.0 103.3,182.8 103.7,184.8 104.0,187.2 104.4,189.2 104.8,190.0 105.2,188.8 105.6,185.6 106.1,181.6 106.5,178.4 106.9,177.2 107.2,178.7 107.5,182.5 107.9,187.1 108.2,190.9 108.5,192.4 108.7,191.5 108.9,189.1 109.2,186.1 109.4,183.7 109.6,182.8 109.9,183.0 110.1,183.6 110.4,184.4 110.6,185.0 110.9,185.2 111.3,186.3 111.7,189.3 112.0,193.1 112.4,196.1 112.8,197.2 113.2,195.2 113.6,190.0 114.1,183.6 114.5,178.4 114.9,176.4 115.3,177.8 115.8,181.4 116.2,185.8 116.7,189.4 117.1,190.8 117.5,189.7 117.9,186.9 118.4,183.5 118.8,180.7 119.2,179.6 119.7,180.2 120.3,181.8 120.8,183.8 121.4,185.4 121.9,186.0 122.5,187.0 123.1,189.6 123.6,192.8 124.2,195.4 124.8,196.4 125.5,194.4 126.3,189.2 127.0,182.8 127.8,177.6 128.5,175.6 129.1,177.0 129.7,180.6 130.3,185.0 130.9,188.6 131.5,190.0 132.2,188.7 133.0,185.3 133.7,181.1 134.5,177.7 135.2,176.4 135.7,176.9 136.3,178.3 136.8,180.1 137.4,181.5 137.9,182.0 138.3,182.7 138.7,184.5 139.2,186.7 139.6,188.5 140.0,189.2 140.6,189.6 141.3,190.6 141.9,191.8 142.6,192.8 143.2,193.2 143.7,192.3 144.2,189.9 144.6,186.9 145.1,184.5 145.6,183.6 146.0,183.7 146.4,183.9 146.7,184.1 147.1,184.3 147.5,184.4 148.0,183.3 148.4,180.4 148.9,176.8 149.3,173.9 149.8,172.8 150.4,175.0 150.9,180.7 151.5,187.7 152.0,193.4 152.6,195.6 153.0,193.8 153.5,189.2 153.9,183.6 154.4,179.0 154.8,177.2 155.3,177.9 155.8,179.7 156.2,181.9 156.7,183.7 157.2,184.4 157.8,185.6 158.5,188.8 159.1,192.8 159.8,196.0 160.4,197.2 161.0,195.7 161.7,191.7 162.3,186.7 163.0,182.7 163.6,181.2 164.1,181.5 164.6,182.3 165.0,183.3 165.5,184.1 166.0,184.4 166.4,184.1 166.8,183.3 167.1,182.3 167.5,181.5 167.9,181.2 168.2,181.5 168.4,182.3 168.7,183.3 168.9,184.1 169.2,184.4 169.5,183.9 169.8,182.5 170.2,180.7 170.5,179.3 170.8,178.8 171.3,179.6 171.8,181.6 172.2,184.0 172.7,186.0 173.2,186.8 173.7,186.2 174.2,184.6 174.6,182.6 175.1,181.0 175.6,180.4 176.0,181.6 176.4,184.8 176.7,188.8 177.1,192.0 177.5,193.2 177.9,192.4 178.3,190.2 178.8,187.4 179.2,185.2 179.6,184.4 179.9,185.2 180.2,187.2 180.6,189.6 180.9,191.6 181.2,192.4 181.7,191.0 182.2,187.4 182.6,183.0 183.1,179.4 183.6,178.0 184.1,178.4 184.6,179.4 185.0,180.6 185.5,181.6 186.0,182.0 186.3,181.8 186.6,181.2 187.0,180.4 187.3,179.8 187.6,179.6 188.1,181.1 188.6,184.9 189.0,189.5 189.5,193.3 190.0,194.8 190.6,193.3 191.2,189.5 191.7,184.9 192.3,181.1 192.9,179.6 193.4,180.6 193.9,183.2 194.3,186.4 194.8,189.0 195.3,190.0 195.8,189.2 196.4,187.0 196.9,184.2 197.5,182.0 198.0,181.2 198.6,181.7 199.2,183.1 199.7,184.9 200.3,186.3 200.9,186.8 201.3,186.3 201.7,184.9 202.0,183.1 202.4,181.7 202.8,181.2 203.3,181.9 203.8,183.7 204.2,185.9 204.7,187.7 205.2,188.4 205.7,188.2 206.2,187.6 206.6,186.8 207.1,186.2 207.6,186.0 208.2,185.6 208.9,184.6 209.5,183.4 210.2,182.4 210.8,182.0 211.3,182.9 211.9,185.3 212.4,188.3 213.0,190.7 213.5,191.6 214.0,190.3 214.5,186.9 214.9,182.7 215.4,179.3 215.9,178.0 216.5,178.5 217.2,179.9 217.8,181.7 218.5,183.1 219.1,183.6 219.6,183.8 220.1,184.4 220.7,185.2 221.2,185.8 221.7,186.0 222.3,185.4 223.0,183.8 223.6,181.8 224.3,180.2 224.9,179.6 225.4,181.1 226.0,184.9 226.5,189.5 227.1,193.3 227.6,194.8 227.9,194.3 228.2,193.1 228.4,191.7 228.7,190.5 229.0,190.0" stroke="#D95319" stroke-width="1.4" fill="none" stroke-linejoin="round" stroke-dasharray="3 1.1" clip-path="url(#cA2)"/>
<polyline points="26.3,457.0 26.5,454.3 26.7,447.2 27.0,438.4 27.2,431.3 27.4,428.6 27.7,432.3 28.0,442.0 28.4,454.1 28.7,463.8 29.0,467.5 29.3,467.0 29.7,465.7 30.0,464.2 30.4,462.9 30.7,462.4 31.1,459.6 31.5,452.2 32.0,443.0 32.4,435.6 32.8,432.8 33.2,438.0 33.6,451.5 34.0,468.2 34.4,481.7 34.8,486.9 35.2,482.8 35.7,472.0 36.1,458.7 36.6,447.9 37.0,443.8 37.4,447.0 37.9,455.2 38.3,465.4 38.8,473.6 39.2,476.8 39.7,473.6 40.1,465.1 40.6,454.7 41.0,446.2 41.5,443.0 41.9,446.0 42.4,453.8 42.8,463.4 43.3,471.2 43.7,474.2 44.2,471.3 44.7,463.7 45.3,454.3 45.8,446.7 46.3,443.8 46.9,446.7 47.5,454.3 48.0,463.7 48.6,471.3 49.2,474.2 49.8,471.3 50.4,463.7 51.0,454.3 51.6,446.7 52.2,443.8 52.6,446.3 53.1,452.9 53.5,460.9 54.0,467.5 54.4,470.0 55.0,467.5 55.6,460.9 56.1,452.9 56.7,446.3 57.3,443.8 57.7,447.2 58.2,456.1 58.6,467.0 59.1,475.9 59.5,479.3 60.1,476.6 60.6,469.4 61.2,460.5 61.7,453.3 62.3,450.6 62.6,451.6 63.0,454.1 63.3,457.2 63.7,459.7 64.0,460.7 64.5,458.8 65.0,453.8 65.6,447.6 66.1,442.6 66.6,440.7 66.9,441.9 67.3,445.2 67.6,449.3 68.0,452.6 68.3,453.9 68.7,453.6 69.1,452.8 69.5,451.7 69.9,450.9 70.3,450.6 70.7,451.6 71.2,454.1 71.6,457.2 72.1,459.7 72.5,460.7 72.8,461.2 73.2,462.6 73.5,464.3 73.9,465.7 74.2,466.2 74.6,465.1 75.1,462.3 75.5,458.7 76.0,455.9 76.4,454.8 76.8,453.7 77.2,450.7 77.6,447.1 78.0,444.1 78.4,443.0 78.9,444.8 79.4,449.6 79.9,455.5 80.4,460.2 80.9,462.0 81.3,460.2 81.7,455.5 82.2,449.6 82.6,444.9 83.0,443.0 83.4,445.4 83.7,451.4 84.1,458.9 84.4,465.0 84.8,467.3 85.1,465.1 85.3,459.3 85.6,452.1 85.8,446.3 86.1,444.1 86.5,446.1 86.9,451.3 87.2,457.7 87.6,462.8 88.0,464.8 88.3,465.5 88.6,467.3 89.0,469.5 89.3,471.3 89.6,471.9 89.9,469.4 90.2,462.9 90.6,454.8 90.9,448.3 91.2,445.8 91.5,447.2 91.8,450.7 92.2,455.1 92.5,458.6 92.8,460.0 93.3,458.5 93.9,454.7 94.4,450.1 95.0,446.3 95.5,444.8 95.9,445.8 96.3,448.5 96.8,451.7 97.2,454.4 97.6,455.4 98.0,454.8 98.4,453.2 98.7,451.2 99.1,449.6 99.5,449.0 99.9,450.7 100.3,455.1 100.8,460.6 101.2,465.1 101.6,466.8 102.1,465.9 102.6,463.6 103.0,460.8 103.5,458.5 104.0,457.6 104.3,457.9 104.5,458.7 104.8,459.7 105.0,460.5 105.3,460.8 105.7,459.8 106.1,457.0 106.4,453.7 106.8,450.9 107.2,449.9 107.5,450.7 107.8,452.8 108.2,455.5 108.5,457.6 108.8,458.4 109.4,456.3 110.0,450.8 110.5,444.0 111.1,438.5 111.7,436.4 112.2,439.9 112.8,448.9 113.3,460.0 113.9,469.0 114.4,472.4 114.9,470.4 115.4,465.2 115.8,458.7 116.3,453.4 116.8,451.4 117.1,452.7 117.4,456.0 117.8,460.2 118.1,463.5 118.4,464.8 118.9,462.7 119.5,457.3 120.0,450.7 120.6,445.3 121.1,443.2 121.6,445.3 122.1,450.7 122.5,457.3 123.0,462.7 123.5,464.8 124.0,463.2 124.5,458.9 124.9,453.5 125.4,449.2 125.9,447.6 126.3,449.0 126.7,452.6 127.2,457.0 127.6,460.6 128.0,462.0 128.5,461.2 129.0,459.1 129.4,456.5 129.9,454.4 130.4,453.6 130.9,454.1 131.4,455.5 131.8,457.3 132.3,458.7 132.8,459.2 133.3,458.4 133.8,456.1 134.2,453.4 134.7,451.2 135.2,450.3 135.6,449.9 136.0,448.9 136.5,447.7 136.9,446.7 137.3,446.3 137.7,447.7 138.2,451.3 138.6,455.7 139.1,459.3 139.5,460.6 139.8,461.4 140.1,463.5 140.5,466.1 140.8,468.2 141.1,469.0 141.7,467.5 142.3,463.6 142.8,458.8 143.4,454.9 144.0,453.4 144.5,452.8 145.0,451.0 145.4,448.8 145.9,447.1 146.4,446.4 146.9,447.2 147.4,449.4 147.8,452.2 148.3,454.4 148.8,455.2 149.1,454.6 149.5,453.1 149.8,451.1 150.2,449.6 150.5,449.0 151.0,451.1 151.5,456.4 152.1,463.0 152.6,468.4 153.1,470.4 153.6,468.8 154.1,464.3 154.6,458.9 155.1,454.4 155.6,452.7 156.0,453.7 156.4,456.3 156.9,459.4 157.3,462.0 157.7,463.0 158.2,461.4 158.8,457.2 159.3,452.1 159.9,448.0 160.4,446.4 160.9,447.6 161.4,450.8 161.8,454.8 162.3,458.0 162.8,459.2 163.3,458.0 163.8,454.9 164.2,451.0 164.7,447.9 165.2,446.7 165.7,448.3 166.2,452.7 166.6,458.0 167.1,462.3 167.6,464.0 168.1,463.4 168.6,461.7 169.0,459.6 169.5,458.0 170.0,457.3 170.6,456.0 171.3,452.4 171.9,448.1 172.6,444.5 173.2,443.2 173.7,445.0 174.2,449.8 174.6,455.8 175.1,460.6 175.6,462.4 176.1,459.7 176.7,452.7 177.2,444.1 177.8,437.1 178.3,434.4 178.9,438.3 179.5,448.5 180.0,461.1 180.6,471.3 181.2,475.2 181.7,472.6 182.2,465.9 182.6,457.6 183.1,450.8 183.6,448.3 183.9,449.7 184.2,453.4 184.6,458.0 184.9,461.8 185.2,463.2 185.8,461.0 186.4,455.3 186.9,448.2 187.5,442.4 188.1,440.2 188.5,443.0 189.0,450.4 189.4,459.5 189.9,466.8 190.3,469.6 190.8,467.8 191.3,463.2 191.9,457.6 192.4,453.0 192.9,451.2 193.3,452.7 193.7,456.5 194.0,461.1 194.4,464.9 194.8,466.4 195.4,464.9 196.0,460.9 196.5,455.9 197.1,451.9 197.7,450.4 198.1,452.1 198.6,456.5 199.0,461.9 199.5,466.3 199.9,468.0 200.5,465.8 201.1,459.9 201.6,452.6 202.2,446.8 202.8,444.5 203.4,446.1 204.0,450.2 204.5,455.3 205.1,459.4 205.7,460.9 206.2,460.6 206.8,459.6 207.3,458.4 207.9,457.4 208.4,457.0 208.8,457.3 209.2,458.0 209.7,459.0 210.1,459.7 210.5,460.0 211.0,459.2 211.6,457.0 212.1,454.2 212.7,452.0 213.2,451.2 213.7,452.4 214.3,455.4 214.8,459.1 215.4,462.2 215.9,463.3 216.4,462.2 216.9,459.1 217.5,455.3 218.0,452.2 218.5,451.0 219.0,452.7 219.5,457.1 219.9,462.4 220.4,466.8 220.9,468.5 221.6,466.6 222.3,461.7 223.0,455.6 223.7,450.7 224.4,448.9 225.0,449.8 225.7,452.4 226.3,455.5 227.0,458.1 227.6,459.1 227.9,458.7 228.2,457.7 228.4,456.4 228.7,455.4 229.0,455.0" stroke="#0072BD" stroke-width="1.25" fill="none" stroke-linejoin="round" clip-path="url(#cB2)"/>
<polyline points="26.3,457.0 26.5,454.3 26.7,447.2 27.0,438.4 27.2,431.3 27.4,428.6 27.7,432.3 28.0,442.0 28.4,454.1 28.7,463.8 29.0,467.5 29.3,467.0 29.7,465.7 30.0,464.2 30.4,462.9 30.7,462.4 31.1,459.6 31.5,452.2 32.0,443.0 32.4,435.6 32.8,432.8 33.2,438.0 33.6,451.5 34.0,468.2 34.4,481.7 34.8,486.9 35.2,482.8 35.7,472.0 36.1,458.7 36.6,447.9 37.0,443.8 37.4,447.0 37.9,455.2 38.3,465.4 38.8,473.6 39.2,476.8 39.7,473.6 40.1,465.1 40.6,454.7 41.0,446.2 41.5,443.0 41.9,446.0 42.4,453.8 42.8,463.4 43.3,471.2 43.7,474.2 44.2,471.3 44.7,463.7 45.3,454.3 45.8,446.7 46.3,443.8 46.9,446.7 47.5,454.3 48.0,463.7 48.6,471.3 49.2,474.2 49.8,471.3 50.4,463.7 51.0,454.3 51.6,446.7 52.2,443.8 52.6,446.3 53.1,452.9 53.5,460.9 54.0,467.5 54.4,470.0 55.0,467.5 55.6,460.9 56.1,452.9 56.7,446.3 57.3,443.8 57.7,447.2 58.2,456.1 58.6,467.0 59.1,475.9 59.5,479.3 60.1,476.6 60.6,469.4 61.2,460.5 61.7,453.3 62.3,450.6 62.6,451.6 63.0,454.1 63.3,457.2 63.7,459.7 64.0,460.7 64.5,459.0 65.0,454.6 65.6,449.1 66.1,444.7 66.6,443.0 66.9,444.0 67.3,446.8 67.6,450.1 68.0,452.9 68.3,453.9 68.7,453.6 69.1,452.8 69.5,451.7 69.9,450.9 70.3,450.6 70.7,451.6 71.2,454.1 71.6,457.2 72.1,459.7 72.5,460.7 72.8,461.2 73.2,462.5 73.5,464.0 73.9,465.3 74.2,465.8 74.6,464.7 75.1,462.0 75.5,458.6 76.0,455.9 76.4,454.8 76.8,453.7 77.2,450.7 77.6,447.1 78.0,444.1 78.4,443.0 78.9,444.7 79.4,449.1 79.9,454.6 80.4,459.0 80.9,460.7 81.3,459.2 81.7,455.2 82.2,450.2 82.6,446.2 83.0,444.7 83.4,446.9 83.7,452.5 84.1,459.5 84.4,465.1 84.8,467.3 85.1,465.3 85.3,460.1 85.6,453.6 85.8,448.4 86.1,446.4 86.5,448.2 86.9,452.8 87.2,458.4 87.6,463.0 88.0,464.8 88.3,465.3 88.6,466.5 89.0,467.9 89.3,469.1 89.6,469.6 89.9,467.5 90.2,461.9 90.6,454.9 90.9,449.3 91.2,447.2 91.5,448.4 91.8,451.6 92.2,455.6 92.5,458.8 92.8,460.0 93.3,458.5 93.9,454.7 94.4,450.1 95.0,446.3 95.5,444.8 95.9,445.7 96.3,448.1 96.8,451.1 97.2,453.5 97.6,454.4 98.0,454.0 98.4,453.0 98.7,451.8 99.1,450.8 99.5,450.4 99.9,451.9 100.3,455.9 100.8,460.9 101.2,464.9 101.6,466.4 102.1,465.6 102.6,463.4 103.0,460.6 103.5,458.4 104.0,457.6 104.3,457.9 104.5,458.7 104.8,459.7 105.0,460.5 105.3,460.8 105.7,460.0 106.1,457.8 106.4,455.0 106.8,452.8 107.2,452.0 107.5,452.6 107.8,454.2 108.2,456.2 108.5,457.8 108.8,458.4 109.4,456.4 110.0,451.2 110.5,444.8 111.1,439.6 111.7,437.6 112.2,440.7 112.8,448.9 113.3,459.1 113.9,467.3 114.4,470.4 114.9,468.6 115.4,464.0 115.8,458.4 116.3,453.8 116.8,452.0 117.1,453.2 117.4,456.4 117.8,460.4 118.1,463.6 118.4,464.8 118.9,462.7 119.5,457.3 120.0,450.7 120.6,445.3 121.1,443.2 121.6,445.3 122.1,450.7 122.5,457.3 123.0,462.7 123.5,464.8 124.0,463.2 124.5,459.0 124.9,453.8 125.4,449.6 125.9,448.0 126.3,449.1 126.7,452.1 127.2,455.9 127.6,458.9 128.0,460.0 128.5,459.4 129.0,457.8 129.4,455.8 129.9,454.2 130.4,453.6 130.9,454.1 131.4,455.5 131.8,457.3 132.3,458.7 132.8,459.2 133.3,458.5 133.8,456.7 134.2,454.5 134.7,452.7 135.2,452.0 135.6,451.5 136.0,450.1 136.5,448.3 136.9,446.9 137.3,446.4 137.7,447.7 138.2,451.1 138.6,455.3 139.1,458.7 139.5,460.0 139.8,460.6 140.1,462.2 140.5,464.2 140.8,465.8 141.1,466.4 141.7,465.2 142.3,462.0 142.8,458.0 143.4,454.8 144.0,453.6 144.5,452.9 145.0,451.1 145.4,448.9 145.9,447.1 146.4,446.4 146.9,447.2 147.4,449.4 147.8,452.2 148.3,454.4 148.8,455.2 149.1,454.8 149.5,453.7 149.8,452.5 150.2,451.4 150.5,451.0 151.0,452.6 151.5,456.9 152.1,462.1 152.6,466.4 153.1,468.0 153.6,466.5 154.1,462.7 154.6,458.1 155.1,454.3 155.6,452.8 156.0,453.6 156.4,455.6 156.9,458.0 157.3,460.0 157.7,460.8 158.2,459.4 158.8,455.8 159.3,451.4 159.9,447.8 160.4,446.4 160.9,447.6 161.4,450.8 161.8,454.8 162.3,458.0 162.8,459.2 163.3,458.1 163.8,455.3 164.2,451.9 164.7,449.1 165.2,448.0 165.7,449.5 166.2,453.5 166.6,458.5 167.1,462.5 167.6,464.0 168.1,463.5 168.6,462.1 169.0,460.3 169.5,458.9 170.0,458.4 170.6,456.9 171.3,453.1 171.9,448.5 172.6,444.7 173.2,443.2 173.7,445.0 174.2,449.8 174.6,455.8 175.1,460.6 175.6,462.4 176.1,459.7 176.7,452.7 177.2,444.1 177.8,437.1 178.3,434.4 178.9,438.3 179.5,448.5 180.0,461.1 180.6,471.3 181.2,475.2 181.7,472.8 182.2,466.4 182.6,458.4 183.1,452.0 183.6,449.6 183.9,450.9 184.2,454.3 184.6,458.5 184.9,461.9 185.2,463.2 185.8,461.1 186.4,455.7 186.9,449.1 187.5,443.7 188.1,441.6 188.5,444.3 189.0,451.3 189.4,459.9 189.9,466.9 190.3,469.6 190.8,467.8 191.3,463.2 191.9,457.6 192.4,453.0 192.9,451.2 193.3,452.7 193.7,456.5 194.0,461.1 194.4,464.9 194.8,466.4 195.4,464.9 196.0,460.9 196.5,455.9 197.1,451.9 197.7,450.4 198.1,452.1 198.6,456.5 199.0,461.9 199.5,466.3 199.9,468.0 200.5,465.8 201.1,460.0 201.6,452.8 202.2,447.0 202.8,444.8 203.4,446.3 204.0,450.3 204.5,455.3 205.1,459.3 205.7,460.8 206.2,460.5 206.8,459.8 207.3,459.0 207.9,458.3 208.4,458.0 208.8,458.2 209.2,458.7 209.7,459.3 210.1,459.8 210.5,460.0 211.0,459.2 211.6,457.0 212.1,454.2 212.7,452.0 213.2,451.2 213.7,452.2 214.3,454.8 214.8,458.0 215.4,460.6 215.9,461.6 216.4,460.8 216.9,458.6 217.5,455.8 218.0,453.6 218.5,452.8 219.0,454.0 219.5,457.2 219.9,461.2 220.4,464.4 220.9,465.6 221.6,464.2 222.3,460.6 223.0,456.2 223.7,452.6 224.4,451.2 225.0,451.8 225.7,453.4 226.3,455.4 227.0,457.0 227.6,457.6 227.9,457.4 228.2,456.7 228.4,455.9 228.7,455.2 229.0,455.0" stroke="#D95319" stroke-width="1.4" fill="none" stroke-linejoin="round" stroke-dasharray="3 1.1" clip-path="url(#cB2)"/>
<polyline points="292.2,190.8 292.5,192.2 292.9,195.0 293.2,196.5 293.4,195.6 293.6,193.8 293.9,193.0 294.2,194.0 294.6,196.1 295.0,197.1 295.2,195.6 295.5,192.8 295.7,191.3 296.0,189.2 296.3,184.8 296.6,182.7 296.9,182.0 297.1,180.6 297.4,179.9 297.7,179.1 298.0,177.6 298.3,176.8 298.6,177.6 298.8,179.3 299.1,180.2 299.5,179.0 299.8,176.7 300.1,175.5 300.5,176.8 300.8,179.4 301.2,180.7 301.5,182.2 301.8,185.2 302.1,186.7 302.5,190.1 302.9,196.9 303.2,200.3 303.4,198.6 303.7,195.3 303.9,193.7 304.1,194.8 304.4,196.9 304.6,198.0 305.0,195.6 305.3,191.0 305.7,188.6 306.1,189.6 306.4,191.6 306.8,192.6 307.2,192.3 307.5,191.9 307.9,191.7 308.2,192.4 308.4,193.8 308.7,194.5 309.0,190.1 309.3,181.3 309.6,176.9 309.9,175.8 310.1,173.4 310.4,172.2 310.7,172.3 310.9,172.5 311.1,172.6 311.4,177.4 311.7,186.9 312.0,191.7 312.4,191.4 312.7,190.7 313.0,190.4 313.3,192.4 313.6,196.3 313.9,198.3 314.2,196.8 314.5,193.8 314.8,192.3 315.0,191.1 315.3,188.8 315.6,187.7 315.9,184.7 316.1,178.7 316.4,175.7 316.6,178.9 316.9,185.3 317.1,188.6 317.4,190.2 317.7,193.5 317.9,195.2 318.2,194.0 318.5,191.5 318.8,190.2 319.1,186.0 319.4,177.6 319.7,173.4 320.1,173.4 320.4,173.3 320.8,173.3 321.0,172.0 321.2,169.4 321.5,168.1 321.8,172.7 322.2,181.8 322.5,186.3 322.5,186.0 322.6,185.4 322.6,185.1 463.0,184.8" stroke="#0072BD" stroke-width="1.5" fill="none" stroke-linejoin="round" clip-path="url(#cA3)"/>
<polyline points="463.8,176.8 464.1,179.7 464.4,185.6 464.7,188.5 465.2,183.5 465.7,173.6 466.2,168.6 466.5,175.3 466.8,188.8 467.1,195.5 467.4,192.0 467.7,185.0 468.0,181.5 468.3,185.5 468.7,193.4 469.0,197.4 469.3,191.5 469.6,179.6 469.9,173.7 470.3,177.5 470.6,185.1 471.0,188.9 471.4,185.0 471.8,177.2 472.2,173.3 472.7,178.4 473.2,188.6 473.7,193.7 474.1,189.5 474.5,181.1 474.9,176.9 475.2,183.1 475.5,195.5 475.8,201.7 476.3,197.5 476.8,189.3 477.2,185.2 477.5,188.6 477.9,195.3 478.2,198.6 478.5,192.2 478.8,179.4 479.0,173.0 479.5,177.5 479.9,186.5 480.4,191.0 480.8,185.6 481.2,174.7 481.6,169.3 482.0,176.9 482.5,192.1 482.9,199.7 483.3,193.0 483.7,179.7 484.1,173.1 484.5,179.7 484.9,192.9 485.3,199.5 485.7,195.0 486.1,185.8 486.5,181.3 486.8,184.3 487.1,190.3 487.4,193.3 487.9,188.5 488.3,178.8 488.7,174.0 489.2,177.1 489.6,183.3 490.0,186.4 490.5,183.6 491.0,178.1 491.5,175.3 492.0,182.2 492.4,196.1 492.8,203.1 493.4,196.3 493.9,182.8 494.4,176.0 494.7,181.1 495.1,191.1 495.4,196.2" stroke="#0072BD" stroke-width="0.8" fill="none" stroke-linejoin="round" clip-path="url(#cA3)"/>
<polyline points="292.2,188.7 292.6,190.7 293.0,192.7 293.5,192.0 294.0,191.3 294.4,191.5 294.9,191.7 295.2,192.1 295.6,192.6 296.1,187.0 296.6,181.4 297.1,182.8 297.5,184.1 297.8,180.1 298.1,176.2 298.6,177.8 299.1,179.5 299.5,178.7 299.9,177.9 300.3,180.1 300.6,182.3 301.1,181.4 301.5,180.6 301.9,185.1 302.3,189.7 302.8,190.5 303.3,191.4 303.7,193.9 304.0,196.3 304.5,192.7 304.9,189.0 305.4,190.2 305.8,191.4 306.4,189.6 307.0,187.8 307.5,190.4 308.0,192.9 308.3,191.9 308.7,191.0 309.3,184.7 309.8,178.4 310.2,175.1 310.6,171.7 311.1,179.6 311.6,187.5 312.0,186.1 312.4,184.8 312.9,190.0 313.4,195.2 313.8,194.8 314.3,194.5 314.6,193.8 314.9,193.2 315.5,185.8 316.0,178.3 316.4,181.8 316.8,185.3 317.2,187.8 317.5,190.3 318.0,190.6 318.5,191.0 319.1,183.6 319.6,176.2 320.1,177.1 320.7,177.9 321.1,173.1 321.6,168.3 322.1,177.3 322.6,186.4 322.6,185.7 322.6,185.0 322.6,180.8 322.6,176.5 323.2,185.0 323.9,193.5 324.7,187.9 325.5,182.2 326.2,185.2 327.0,188.2 327.7,184.8 328.3,181.3 329.0,184.9 329.8,188.5 330.3,184.2 330.7,179.9 331.3,185.5 331.9,191.0 332.3,184.6 332.7,178.3 333.4,184.6 334.1,190.9 334.6,186.2 335.1,181.6 335.8,187.0 336.5,192.4 337.0,187.1 337.6,181.7 338.2,184.3 338.9,186.8 339.4,180.9 339.9,175.0 340.5,185.6 341.1,196.2 341.6,189.6 342.2,182.9 342.8,188.8 343.5,194.6 343.9,187.4 344.4,180.2 345.1,183.5 345.9,186.8 346.3,179.6 346.8,172.5 347.4,179.7 348.0,187.0 348.5,181.6 349.0,176.2 349.7,182.7 350.4,189.1 350.8,185.0 351.3,180.9 352.0,188.4 352.7,196.0 353.2,189.5 353.6,182.9 354.1,186.2 354.6,189.6 355.3,182.8 356.0,176.1 356.7,186.2 357.3,196.4 357.7,187.6 358.1,178.8 358.7,188.3 359.2,197.8 359.9,190.3 360.6,182.9 361.1,191.0 361.6,199.0 362.2,190.6 362.7,182.2 363.4,184.7 364.1,187.2 364.5,182.7 365.0,178.3 365.7,185.7 366.4,193.0 366.9,188.0 367.5,182.9 368.1,185.0 368.7,187.0 369.4,179.2 370.1,171.4 370.6,184.2 371.1,196.9 371.9,188.4 372.6,179.8 373.3,186.0 374.0,192.2 374.7,187.6 375.3,182.9 376.0,186.6 376.7,190.2 377.2,186.5 377.7,182.8 378.4,188.4 379.1,194.0 379.8,187.8 380.5,181.5 381.1,185.8 381.6,190.1 382.2,184.5 382.7,178.9 383.4,186.0 384.2,193.1 384.7,183.4 385.2,173.6 385.7,181.5 386.2,189.4 386.8,185.0 387.5,180.5 388.0,185.5 388.4,190.6 388.8,186.8 389.3,182.9 390.0,190.3 390.7,197.7 391.3,188.6 391.9,179.6 392.6,187.8 393.3,196.1 393.9,187.5 394.4,179.0 394.9,184.7 395.3,190.3 396.0,186.1 396.7,181.9 397.3,188.0 397.9,194.2 398.4,183.0 398.9,171.7 399.5,180.6 400.2,189.4 400.9,181.7 401.6,173.9 402.1,181.0 402.6,188.1 403.2,184.0 403.9,179.9 404.5,184.4 405.2,188.9 405.7,181.6 406.2,174.4 406.7,186.6 407.2,198.9 407.8,186.0 408.4,173.2 409.2,181.4 409.9,189.6 410.5,180.7 411.1,171.9 411.5,180.4 412.0,188.9 412.4,181.4 412.9,173.9 413.4,180.6 413.8,187.3 414.5,183.9 415.2,180.5 415.7,183.9 416.3,187.4 416.7,184.4 417.1,181.4 417.7,186.7 418.3,192.0 418.9,186.4 419.6,180.8 420.3,186.1 421.1,191.3 421.6,184.4 422.2,177.4 422.9,183.6 423.7,189.8 424.5,185.9 425.2,182.1 425.9,187.3 426.5,192.6 427.0,183.7 427.5,174.8 428.1,182.2 428.7,189.6 429.4,184.4 430.1,179.2 430.7,186.7 431.4,194.3 431.8,184.3 432.2,174.4 433.0,182.8 433.7,191.3 434.2,184.5 434.8,177.7 435.3,182.8 435.8,187.9 436.3,179.4 436.7,171.0 437.3,182.9 437.9,194.8 438.6,186.3 439.3,177.9 439.9,188.1 440.6,198.3 441.3,185.0 442.0,171.8 442.5,180.3 442.9,188.8 443.3,185.1 443.7,181.5 444.5,188.5 445.2,195.6 445.7,187.6 446.1,179.6 446.6,187.1 447.1,194.6 447.9,188.3 448.6,182.0 449.2,185.5 449.7,189.0 450.5,182.1 451.2,175.2 451.7,181.9 452.2,188.6 452.8,184.8 453.3,180.9 454.0,188.4 454.6,195.9 455.1,189.3 455.6,182.7 456.1,186.3 456.6,190.0 457.1,183.8 457.6,177.7 458.1,186.4 458.6,195.2 459.2,188.2 459.8,181.2 460.4,189.4 461.0,197.5 461.4,185.8 461.9,174.1 462.4,180.7 462.9,187.3 463.4,182.1 463.8,176.8 464.2,182.7 464.7,188.5 465.5,178.6 466.2,168.6 466.7,182.1 467.1,195.5 467.6,188.5 468.0,181.5 468.5,189.4 469.0,197.4 469.4,185.5 469.9,173.7 470.5,181.3 471.0,188.9 471.6,181.1 472.2,173.3 473.0,183.5 473.7,193.7 474.3,185.3 474.9,176.9 475.4,189.3 475.8,201.7 476.5,193.4 477.2,185.2 477.7,191.9 478.2,198.6 478.6,185.8 479.0,173.0 479.7,182.0 480.4,191.0 481.0,180.2 481.6,169.3 482.3,184.5 482.9,199.7 483.5,186.4 484.1,173.1 484.7,186.3 485.3,199.5 485.9,190.4 486.5,181.3 486.9,187.3 487.4,193.3 488.1,183.6 488.7,174.0 489.4,180.2 490.0,186.4 490.7,180.9 491.5,175.3 492.2,189.2 492.8,203.1 493.6,189.5 494.4,176.0 494.9,186.1 495.4,196.2" stroke="#D95319" stroke-width="1.35" fill="none" stroke-linejoin="round" stroke-dasharray="2.6 0.8" clip-path="url(#cA3)"/>
<polyline points="292.4,456.5 292.8,452.2 293.1,443.6 293.5,439.3 293.8,441.1 294.2,444.7 294.5,446.5 294.8,443.0 295.2,435.8 295.5,432.3 295.9,439.5 296.3,454.0 296.7,461.3 297.0,460.9 297.4,460.2 297.8,459.8 298.1,463.3 298.5,470.4 298.8,473.9 299.0,471.6 299.3,466.9 299.5,464.6 299.9,466.2 300.3,469.6 300.7,471.3 300.9,469.0 301.2,464.5 301.4,462.3 301.8,459.3 302.1,453.2 302.5,450.1 302.8,446.9 303.1,440.4 303.3,437.2 303.6,439.9 304.0,445.4 304.3,448.2 304.6,452.9 305.0,462.5 305.3,467.3 305.7,468.3 306.0,470.5 306.4,471.6 306.6,464.3 306.8,449.7 307.0,442.4 307.3,441.7 307.6,440.3 307.9,439.7 308.2,442.1 308.5,446.9 308.8,449.3 309.0,454.2 309.3,463.8 309.6,468.6 309.8,467.5 310.1,465.3 310.3,464.2 310.7,461.1 311.1,455.0 311.5,452.0 311.8,448.7 312.1,442.2 312.4,438.9 312.7,443.6 313.0,452.9 313.3,457.6 313.6,459.1 313.9,462.0 314.2,463.5 314.4,463.6 314.6,463.8 314.8,463.9 315.2,458.3 315.5,447.2 315.8,441.7 316.0,441.8 316.3,442.0 316.6,442.1 316.8,442.3 317.1,442.8 317.3,443.1 317.5,449.3 317.8,461.8 318.0,468.1 318.3,465.8 318.6,461.1 318.9,458.7 319.3,456.4 319.6,451.7 320.0,449.4 320.2,447.6 320.5,444.1 320.7,442.4 320.9,445.3 321.2,451.1 321.5,454.0 321.7,454.3 322.0,454.8 322.2,455.1 322.4,455.5 322.5,456.2 322.6,456.5 463.7,456.1" stroke="#0072BD" stroke-width="1.5" fill="none" stroke-linejoin="round" clip-path="url(#cB3)"/>
<polyline points="463.6,460.5 463.9,458.2 464.3,453.6 464.6,451.4 464.8,454.8 465.0,461.7 465.2,465.1 465.5,463.8 465.7,461.0 465.9,459.6 466.2,463.1 466.5,469.9 466.8,473.4 467.0,471.5 467.2,467.9 467.4,466.0 467.7,464.3 468.0,460.7 468.2,458.9 468.5,454.8 468.8,446.5 469.1,442.3 469.3,444.3 469.5,448.2 469.7,450.1 469.9,450.4 470.2,450.9 470.4,451.1 470.7,454.5 470.9,461.2 471.1,464.5 471.4,463.6 471.8,461.7 472.1,460.7 472.3,461.3 472.5,462.4 472.7,463.0 473.0,461.7 473.2,459.1 473.5,457.8 473.8,461.4 474.1,468.6 474.4,472.3 474.6,473.1 474.8,474.9 475.1,475.7 475.4,478.5 475.7,483.9 476.0,486.6 476.2,483.2 476.4,476.5 476.6,473.1 476.8,473.8 477.1,475.1 477.3,475.8 477.5,471.4 477.7,462.8 477.9,458.4 478.1,457.4 478.3,455.2 478.6,454.1 478.8,451.3 479.0,445.6 479.3,442.8 479.6,444.2 479.9,446.9 480.2,448.3 480.5,445.6 480.8,440.1 481.1,437.4 481.3,438.6 481.6,440.9 481.8,442.1 482.0,438.9 482.2,432.6 482.5,429.4 482.7,433.7 482.9,442.1 483.1,446.4 483.4,446.7 483.6,447.5 483.8,447.9 484.2,453.8 484.5,465.5 484.8,471.4 485.0,469.6 485.3,465.9 485.5,464.1 485.8,464.8 486.1,466.1 486.4,466.8 486.7,462.6 487.0,454.3 487.2,450.1 487.5,452.9 487.7,458.4 488.0,461.2 488.2,462.8 488.5,466.0 488.7,467.6 489.1,470.2 489.4,475.5 489.8,478.2 490.0,471.7 490.2,458.7 490.4,452.2 490.7,451.6 491.0,450.6 491.3,450.1 491.5,447.8 491.8,443.2 492.0,440.8 492.3,444.2 492.5,451.1 492.8,454.5 493.1,452.4 493.4,448.4 493.7,446.4 494.1,450.3 494.4,458.1 494.7,462.0 494.8,460.3 494.9,456.8 495.0,455.0" stroke="#0072BD" stroke-width="0.8" fill="none" stroke-linejoin="round" clip-path="url(#cB3)"/>
<polyline points="292.4,445.0 293.2,435.8 293.9,454.0 294.6,445.0 295.5,456.7 296.3,460.6 296.9,468.2 297.6,468.1 298.5,477.6 299.1,467.6 299.9,478.7 300.4,468.2 301.1,486.0 301.9,470.4 302.6,462.4 303.5,433.8 304.5,436.4 305.2,440.7 306.1,464.6 307.0,443.4 307.9,454.4 308.8,459.5 309.8,480.1 310.7,463.7 311.6,452.2 312.2,440.7 312.8,450.4 313.6,449.3 314.3,460.0 315.3,455.5 316.2,459.1 317.0,441.2 318.0,448.9 318.8,440.5 319.8,453.5 320.7,449.4 321.4,468.7 322.3,475.2 323.1,469.3 323.7,460.2 324.5,462.7 325.2,450.5 326.0,453.1 326.8,440.5 327.6,451.8 328.5,428.7 329.4,431.7 330.3,435.7 331.1,456.1 332.1,446.5 332.8,449.7 333.4,440.0 334.4,470.8 335.0,467.2 335.6,471.3 336.4,447.1 337.2,446.9 337.9,452.9 339.0,471.5 339.6,458.6 340.4,459.6 341.1,439.5 342.0,461.9 342.7,462.6 343.3,472.9 344.2,455.3 345.1,448.8 346.1,448.6 346.9,473.5 347.7,474.6 348.7,476.6 349.5,450.6 350.1,459.2 351.1,441.6 351.8,444.0 352.6,436.8 353.6,434.8 354.1,429.9 354.9,448.2 355.8,451.6 356.5,457.8 357.4,458.2 358.3,465.0 359.0,456.9 359.9,478.0 360.6,465.0 361.4,475.7 362.3,459.8 363.2,463.3 363.8,442.3 364.5,452.6 365.1,434.4 366.0,443.4 366.7,439.4 367.6,453.2 368.6,453.8 369.3,469.5 370.3,461.1 370.9,472.0 371.9,468.5 372.6,471.2 373.2,456.1 374.1,465.0 374.9,446.2 375.8,453.3 376.5,445.6 377.3,445.0 378.1,444.7 379.1,457.7 380.0,450.1 380.9,472.5 381.6,462.5 382.5,476.0 383.3,463.8 383.8,470.0 384.6,457.1 385.4,464.0 386.1,453.1 387.1,450.7 387.8,438.7 388.8,443.7 389.5,442.1 390.2,447.1 390.9,439.1 391.5,455.0 392.3,457.4 393.2,469.8 393.9,468.8 394.5,477.1 395.3,468.5 396.1,470.1 397.0,455.4 397.6,462.0 398.3,450.3 399.4,449.3 399.9,440.9 400.6,443.5 401.3,438.9 402.2,451.4 402.9,446.5 403.6,455.8 404.3,454.9 405.3,465.4 406.2,466.2 407.0,481.0 407.8,467.2 408.5,479.7 409.1,465.7 409.8,469.2 410.7,441.2 411.5,442.3 412.3,426.7 413.3,434.9 414.3,431.8 415.1,442.3 415.8,442.4 416.7,459.5 417.6,462.6 418.2,474.9 419.0,468.3 419.6,478.9 420.5,466.8 421.1,479.3 422.1,463.3 423.0,462.2 423.8,441.1 424.7,442.1 425.5,429.0 426.2,438.5 426.9,439.0 427.9,453.4 428.5,449.4 429.5,472.7 430.4,469.4 431.0,480.2 431.8,473.2 432.4,476.1 433.3,463.1 434.2,459.9 435.0,452.0 435.9,448.8 436.6,438.4 437.6,441.8 438.3,435.7 439.0,445.4 439.8,446.1 440.5,460.8 441.3,460.0 442.1,478.5 442.7,466.1 443.7,484.0 444.4,473.6 445.3,475.5 446.2,459.5 447.0,462.1 447.9,441.7 448.7,444.8 449.7,437.9 450.7,440.4 451.4,441.1 452.4,449.5 453.1,450.4 453.9,464.8 454.8,457.1 455.3,474.0 456.0,469.0 456.8,477.3 457.8,470.0 458.4,471.7 459.0,458.5 459.9,456.3 460.9,438.0 461.6,445.3 462.6,444.6 463.6,460.5 464.6,451.4 465.2,465.1 465.9,459.6 466.8,473.4 467.4,466.0 468.2,458.9 469.1,442.3 469.7,450.1 470.4,451.1 471.1,464.5 472.1,460.7 472.7,463.0 473.5,457.8 474.4,472.3 475.1,475.7 476.0,486.6 476.6,473.1 477.3,475.8 477.9,458.4 478.6,454.1 479.3,442.8 480.2,448.3 481.1,437.4 481.8,442.1 482.5,429.4 483.1,446.4 483.8,447.9 484.8,471.4 485.5,464.1 486.4,466.8 487.2,450.1 488.0,461.2 488.7,467.6 489.8,478.2 490.4,452.2 491.3,450.1 492.0,440.8 492.8,454.5 493.7,446.4 494.7,462.0 495.0,455.0" stroke="#D95319" stroke-width="1.2" fill="none" stroke-linejoin="round" stroke-dasharray="2.2 0.9" clip-path="url(#cB3)"/>
<path d="M93.46 6.40V99.30" stroke="#262626" stroke-width="1.5" stroke-dasharray="3.3 3.5" fill="none"/>
<path d="M249.94 6.40V99.30" stroke="#262626" stroke-width="1.5" stroke-dasharray="3.3 3.5" fill="none"/>
<path d="M291.74 6.40V99.30" stroke="#262626" stroke-width="1.5" stroke-dasharray="3.3 3.5" fill="none"/>
<path d="M93.64 277.40V370.60" stroke="#262626" stroke-width="1.5" stroke-dasharray="3.3 3.5" fill="none"/>
<path d="M250.30 277.40V370.60" stroke="#262626" stroke-width="1.5" stroke-dasharray="3.3 3.5" fill="none"/>
<path d="M292.15 277.40V370.60" stroke="#262626" stroke-width="1.5" stroke-dasharray="3.3 3.5" fill="none"/>
<path d="M43.23 137.40V232.20" stroke="#262626" stroke-width="1.5" stroke-dasharray="3.3 3.5" fill="none"/>
<path d="M43.23 408.60V503.50" stroke="#262626" stroke-width="1.5" stroke-dasharray="3.3 3.5" fill="none"/>
<path d="M462.98 137.50V232.20" stroke="#262626" stroke-width="1.5" stroke-dasharray="3.3 3.5" fill="none"/>
<path d="M463.68 408.60V503.50" stroke="#262626" stroke-width="1.5" stroke-dasharray="3.3 3.5" fill="none"/>
<text x="156.20" y="24.70" text-anchor="start" class="an">Part I</text>
<text x="262.40" y="24.70" text-anchor="start" class="an">Part II</text>
<text x="156.00" y="86.00" text-anchor="start" class="an">Reconstructed part</text>
<path d="M291.24 89.30H94.46" stroke="#6a6a6a" stroke-width="0.8" fill="none"/>
<path d="M94.46 89.30L99.46 87.10L98.76 89.30L99.46 91.50Z" fill="#1a1a1a"/>
<path d="M94.46 89.30H291.24" stroke="#6a6a6a" stroke-width="0.8" fill="none"/>
<path d="M291.24 89.30L286.24 87.10L286.94 89.30L286.24 91.50Z" fill="#1a1a1a"/>
<text x="156.20" y="295.70" text-anchor="start" class="an">Part I</text>
<text x="262.40" y="295.70" text-anchor="start" class="an">Part II</text>
<text x="156.00" y="357.00" text-anchor="start" class="an">Reconstructed part</text>
<path d="M291.65 360.30H94.64" stroke="#6a6a6a" stroke-width="0.8" fill="none"/>
<path d="M94.64 360.30L99.64 358.10L98.94 360.30L99.64 362.50Z" fill="#1a1a1a"/>
<path d="M94.64 360.30H291.65" stroke="#6a6a6a" stroke-width="0.8" fill="none"/>
<path d="M291.65 360.30L286.65 358.10L287.35 360.30L286.65 362.50Z" fill="#1a1a1a"/>
<path d="M43.23 219.90H88.20" stroke="#6a6a6a" stroke-width="0.8" fill="none"/>
<path d="M88.20 219.90L83.20 217.70L83.90 219.90L83.20 222.10Z" fill="#1a1a1a"/>
<text x="91.60" y="222.90" text-anchor="start" class="an">Reconstructed part</text>
<path d="M43.23 491.10H88.20" stroke="#6a6a6a" stroke-width="0.8" fill="none"/>
<path d="M88.20 491.10L83.20 488.90L83.90 491.10L83.20 493.30Z" fill="#1a1a1a"/>
<text x="91.60" y="494.10" text-anchor="start" class="an">Reconstructed part</text>
<path d="M462.98 220.00H424.80" stroke="#6a6a6a" stroke-width="0.8" fill="none"/>
<path d="M424.80 220.00L429.80 217.80L429.10 220.00L429.80 222.20Z" fill="#1a1a1a"/>
<text x="422.20" y="223.00" text-anchor="end" class="an">Reconstructed part</text>
<path d="M463.68 491.10H424.80" stroke="#6a6a6a" stroke-width="0.8" fill="none"/>
<path d="M424.80 491.10L429.80 488.90L429.10 491.10L429.80 493.30Z" fill="#1a1a1a"/>
<text x="422.20" y="494.10" text-anchor="end" class="an">Reconstructed part</text>
<path d="M26.40 99.30v-3.8M26.40 6.40v3.8M71.11 99.30v-3.8M71.11 6.40v3.8M115.82 99.30v-3.8M115.82 6.40v3.8M160.52 99.30v-3.8M160.52 6.40v3.8M205.23 99.30v-3.8M205.23 6.40v3.8M249.94 99.30v-3.8M249.94 6.40v3.8M294.65 99.30v-3.8M294.65 6.40v3.8M339.36 99.30v-3.8M339.36 6.40v3.8M384.07 99.30v-3.8M384.07 6.40v3.8M428.77 99.30v-3.8M428.77 6.40v3.8M473.48 99.30v-3.8M473.48 6.40v3.8M26.40 90.01h3.8M493.60 90.01h-3.8M26.40 71.43h3.8M493.60 71.43h-3.8M26.40 52.85h3.8M493.60 52.85h-3.8M26.40 34.27h3.8M493.60 34.27h-3.8M26.40 15.69h3.8M493.60 15.69h-3.8" stroke="#6a6a6a" stroke-width="0.9" fill="none"/>
<rect x="26.40" y="6.40" width="467.20" height="92.90" stroke="#858585" stroke-width="1.0" fill="none"/>
<text transform="translate(26.40 110.60) scale(1 1.14)" text-anchor="middle" class="tk">0</text>
<text transform="translate(71.11 110.60) scale(1 1.14)" text-anchor="middle" class="tk">10</text>
<text transform="translate(115.82 110.60) scale(1 1.14)" text-anchor="middle" class="tk">20</text>
<text transform="translate(160.52 110.60) scale(1 1.14)" text-anchor="middle" class="tk">30</text>
<text transform="translate(205.23 110.60) scale(1 1.14)" text-anchor="middle" class="tk">40</text>
<text transform="translate(249.94 110.60) scale(1 1.14)" text-anchor="middle" class="tk">50</text>
<text transform="translate(294.65 110.60) scale(1 1.14)" text-anchor="middle" class="tk">60</text>
<text transform="translate(339.36 110.60) scale(1 1.14)" text-anchor="middle" class="tk">70</text>
<text transform="translate(384.07 110.60) scale(1 1.14)" text-anchor="middle" class="tk">80</text>
<text transform="translate(428.77 110.60) scale(1 1.14)" text-anchor="middle" class="tk">90</text>
<text transform="translate(473.48 110.60) scale(1 1.14)" text-anchor="middle" class="tk">100</text>
<text transform="translate(23.20 92.91) scale(1 1.14)" text-anchor="end" class="tk">-2</text>
<text transform="translate(23.20 74.33) scale(1 1.14)" text-anchor="end" class="tk">-1</text>
<text transform="translate(23.20 55.75) scale(1 1.14)" text-anchor="end" class="tk">0</text>
<text transform="translate(23.20 37.17) scale(1 1.14)" text-anchor="end" class="tk">1</text>
<text transform="translate(23.20 18.59) scale(1 1.14)" text-anchor="end" class="tk">2</text>
<text transform="translate(260.00 121.90) scale(1 1.06)" text-anchor="middle" class="lb">Time (s)</text>
<text transform="translate(13.20 52.85) rotate(-90) scale(1 1.06)" text-anchor="middle" class="lb">Amplitude (gal)</text>
<path d="M26.40 232.20v-3.8M26.40 137.40v3.8M60.07 232.20v-3.8M60.07 137.40v3.8M93.73 232.20v-3.8M93.73 137.40v3.8M127.40 232.20v-3.8M127.40 137.40v3.8M161.07 232.20v-3.8M161.07 137.40v3.8M194.73 232.20v-3.8M194.73 137.40v3.8M228.40 232.20v-3.8M228.40 137.40v3.8M26.40 222.72h3.8M228.40 222.72h-3.8M26.40 203.76h3.8M228.40 203.76h-3.8M26.40 184.80h3.8M228.40 184.80h-3.8M26.40 165.84h3.8M228.40 165.84h-3.8M26.40 146.88h3.8M228.40 146.88h-3.8" stroke="#6a6a6a" stroke-width="0.9" fill="none"/>
<rect x="26.40" y="137.40" width="202.00" height="94.80" stroke="#858585" stroke-width="1.0" fill="none"/>
<text transform="translate(26.40 243.50) scale(1 1.14)" text-anchor="middle" class="tk">14</text>
<text transform="translate(60.07 243.50) scale(1 1.14)" text-anchor="middle" class="tk">16</text>
<text transform="translate(93.73 243.50) scale(1 1.14)" text-anchor="middle" class="tk">18</text>
<text transform="translate(127.40 243.50) scale(1 1.14)" text-anchor="middle" class="tk">20</text>
<text transform="translate(161.07 243.50) scale(1 1.14)" text-anchor="middle" class="tk">22</text>
<text transform="translate(194.73 243.50) scale(1 1.14)" text-anchor="middle" class="tk">24</text>
<text transform="translate(228.40 243.50) scale(1 1.14)" text-anchor="middle" class="tk">26</text>
<text transform="translate(23.20 225.62) scale(1 1.14)" text-anchor="end" class="tk">-2</text>
<text transform="translate(23.20 206.66) scale(1 1.14)" text-anchor="end" class="tk">-1</text>
<text transform="translate(23.20 187.70) scale(1 1.14)" text-anchor="end" class="tk">0</text>
<text transform="translate(23.20 168.74) scale(1 1.14)" text-anchor="end" class="tk">1</text>
<text transform="translate(23.20 149.78) scale(1 1.14)" text-anchor="end" class="tk">2</text>
<text transform="translate(127.40 255.00) scale(1 1.06)" text-anchor="middle" class="lb">Time (s)</text>
<text transform="translate(13.20 184.80) rotate(-90) scale(1 1.06)" text-anchor="middle" class="lb">Amplitude (gal)</text>
<path d="M291.80 232.20v-3.8M291.80 137.50v3.8M321.96 232.20v-3.8M321.96 137.50v3.8M352.13 232.20v-3.8M352.13 137.50v3.8M382.29 232.20v-3.8M382.29 137.50v3.8M412.46 232.20v-3.8M412.46 137.50v3.8M442.62 232.20v-3.8M442.62 137.50v3.8M472.79 232.20v-3.8M472.79 137.50v3.8M291.80 232.20h3.8M493.60 232.20h-3.8M291.80 184.85h3.8M493.60 184.85h-3.8M291.80 137.50h3.8M493.60 137.50h-3.8" stroke="#6a6a6a" stroke-width="0.9" fill="none"/>
<rect x="291.80" y="137.50" width="201.80" height="94.70" stroke="#858585" stroke-width="1.0" fill="none"/>
<text transform="translate(291.80 243.50) scale(1 1.14)" text-anchor="middle" class="tk">48</text>
<text transform="translate(321.96 243.50) scale(1 1.14)" text-anchor="middle" class="tk">50</text>
<text transform="translate(352.13 243.50) scale(1 1.14)" text-anchor="middle" class="tk">52</text>
<text transform="translate(382.29 243.50) scale(1 1.14)" text-anchor="middle" class="tk">54</text>
<text transform="translate(412.46 243.50) scale(1 1.14)" text-anchor="middle" class="tk">56</text>
<text transform="translate(442.62 243.50) scale(1 1.14)" text-anchor="middle" class="tk">58</text>
<text transform="translate(472.79 243.50) scale(1 1.14)" text-anchor="middle" class="tk">60</text>
<text transform="translate(288.60 235.10) scale(1 1.14)" text-anchor="end" class="tk">-0.5</text>
<text transform="translate(288.60 187.75) scale(1 1.14)" text-anchor="end" class="tk">0</text>
<text transform="translate(288.60 140.40) scale(1 1.14)" text-anchor="end" class="tk">0.5</text>
<text transform="translate(392.70 255.00) scale(1 1.06)" text-anchor="middle" class="lb">Time (s)</text>
<text transform="translate(271.20 184.85) rotate(-90) scale(1 1.06)" text-anchor="middle" class="lb">Amplitude (gal)</text>
<path d="M26.50 370.60v-3.8M26.50 277.40v3.8M71.26 370.60v-3.8M71.26 277.40v3.8M116.02 370.60v-3.8M116.02 277.40v3.8M160.78 370.60v-3.8M160.78 277.40v3.8M205.54 370.60v-3.8M205.54 277.40v3.8M250.30 370.60v-3.8M250.30 277.40v3.8M295.06 370.60v-3.8M295.06 277.40v3.8M339.82 370.60v-3.8M339.82 277.40v3.8M384.58 370.60v-3.8M384.58 277.40v3.8M429.34 370.60v-3.8M429.34 277.40v3.8M474.10 370.60v-3.8M474.10 277.40v3.8M26.50 361.28h3.8M494.60 361.28h-3.8M26.50 342.64h3.8M494.60 342.64h-3.8M26.50 324.00h3.8M494.60 324.00h-3.8M26.50 305.36h3.8M494.60 305.36h-3.8M26.50 286.72h3.8M494.60 286.72h-3.8" stroke="#6a6a6a" stroke-width="0.9" fill="none"/>
<rect x="26.50" y="277.40" width="468.10" height="93.20" stroke="#858585" stroke-width="1.0" fill="none"/>
<text transform="translate(26.50 381.90) scale(1 1.14)" text-anchor="middle" class="tk">0</text>
<text transform="translate(71.26 381.90) scale(1 1.14)" text-anchor="middle" class="tk">10</text>
<text transform="translate(116.02 381.90) scale(1 1.14)" text-anchor="middle" class="tk">20</text>
<text transform="translate(160.78 381.90) scale(1 1.14)" text-anchor="middle" class="tk">30</text>
<text transform="translate(205.54 381.90) scale(1 1.14)" text-anchor="middle" class="tk">40</text>
<text transform="translate(250.30 381.90) scale(1 1.14)" text-anchor="middle" class="tk">50</text>
<text transform="translate(295.06 381.90) scale(1 1.14)" text-anchor="middle" class="tk">60</text>
<text transform="translate(339.82 381.90) scale(1 1.14)" text-anchor="middle" class="tk">70</text>
<text transform="translate(384.58 381.90) scale(1 1.14)" text-anchor="middle" class="tk">80</text>
<text transform="translate(429.34 381.90) scale(1 1.14)" text-anchor="middle" class="tk">90</text>
<text transform="translate(474.10 381.90) scale(1 1.14)" text-anchor="middle" class="tk">100</text>
<text transform="translate(23.30 364.18) scale(1 1.14)" text-anchor="end" class="tk">-2</text>
<text transform="translate(23.30 345.54) scale(1 1.14)" text-anchor="end" class="tk">-1</text>
<text transform="translate(23.30 326.90) scale(1 1.14)" text-anchor="end" class="tk">0</text>
<text transform="translate(23.30 308.26) scale(1 1.14)" text-anchor="end" class="tk">1</text>
<text transform="translate(23.30 289.62) scale(1 1.14)" text-anchor="end" class="tk">2</text>
<text transform="translate(260.55 392.40) scale(1 1.06)" text-anchor="middle" class="lb">Time (s)</text>
<text transform="translate(13.20 324.00) rotate(-90) scale(1 1.06)" text-anchor="middle" class="lb">Amplitude (gal)</text>
<path d="M26.40 503.50v-3.8M26.40 408.60v3.8M60.07 503.50v-3.8M60.07 408.60v3.8M93.73 503.50v-3.8M93.73 408.60v3.8M127.40 503.50v-3.8M127.40 408.60v3.8M161.07 503.50v-3.8M161.07 408.60v3.8M194.73 503.50v-3.8M194.73 408.60v3.8M228.40 503.50v-3.8M228.40 408.60v3.8M26.40 494.01h3.8M228.40 494.01h-3.8M26.40 475.03h3.8M228.40 475.03h-3.8M26.40 456.05h3.8M228.40 456.05h-3.8M26.40 437.07h3.8M228.40 437.07h-3.8M26.40 418.09h3.8M228.40 418.09h-3.8" stroke="#6a6a6a" stroke-width="0.9" fill="none"/>
<rect x="26.40" y="408.60" width="202.00" height="94.90" stroke="#858585" stroke-width="1.0" fill="none"/>
<text transform="translate(26.40 514.80) scale(1 1.14)" text-anchor="middle" class="tk">14</text>
<text transform="translate(60.07 514.80) scale(1 1.14)" text-anchor="middle" class="tk">16</text>
<text transform="translate(93.73 514.80) scale(1 1.14)" text-anchor="middle" class="tk">18</text>
<text transform="translate(127.40 514.80) scale(1 1.14)" text-anchor="middle" class="tk">20</text>
<text transform="translate(161.07 514.80) scale(1 1.14)" text-anchor="middle" class="tk">22</text>
<text transform="translate(194.73 514.80) scale(1 1.14)" text-anchor="middle" class="tk">24</text>
<text transform="translate(228.40 514.80) scale(1 1.14)" text-anchor="middle" class="tk">26</text>
<text transform="translate(23.20 496.91) scale(1 1.14)" text-anchor="end" class="tk">-2</text>
<text transform="translate(23.20 477.93) scale(1 1.14)" text-anchor="end" class="tk">-1</text>
<text transform="translate(23.20 458.95) scale(1 1.14)" text-anchor="end" class="tk">0</text>
<text transform="translate(23.20 439.97) scale(1 1.14)" text-anchor="end" class="tk">1</text>
<text transform="translate(23.20 420.99) scale(1 1.14)" text-anchor="end" class="tk">2</text>
<text transform="translate(127.40 526.00) scale(1 1.06)" text-anchor="middle" class="lb">Time (s)</text>
<text transform="translate(13.20 456.05) rotate(-90) scale(1 1.06)" text-anchor="middle" class="lb">Amplitude (gal)</text>
<path d="M292.50 503.50v-3.8M292.50 408.60v3.8M322.66 503.50v-3.8M322.66 408.60v3.8M352.83 503.50v-3.8M352.83 408.60v3.8M382.99 503.50v-3.8M382.99 408.60v3.8M413.16 503.50v-3.8M413.16 408.60v3.8M443.32 503.50v-3.8M443.32 408.60v3.8M473.49 503.50v-3.8M473.49 408.60v3.8M292.50 503.50h3.8M494.60 503.50h-3.8M292.50 456.05h3.8M494.60 456.05h-3.8M292.50 408.60h3.8M494.60 408.60h-3.8" stroke="#6a6a6a" stroke-width="0.9" fill="none"/>
<rect x="292.50" y="408.60" width="202.10" height="94.90" stroke="#858585" stroke-width="1.0" fill="none"/>
<text transform="translate(292.50 514.80) scale(1 1.14)" text-anchor="middle" class="tk">48</text>
<text transform="translate(322.66 514.80) scale(1 1.14)" text-anchor="middle" class="tk">50</text>
<text transform="translate(352.83 514.80) scale(1 1.14)" text-anchor="middle" class="tk">52</text>
<text transform="translate(382.99 514.80) scale(1 1.14)" text-anchor="middle" class="tk">54</text>
<text transform="translate(413.16 514.80) scale(1 1.14)" text-anchor="middle" class="tk">56</text>
<text transform="translate(443.32 514.80) scale(1 1.14)" text-anchor="middle" class="tk">58</text>
<text transform="translate(473.49 514.80) scale(1 1.14)" text-anchor="middle" class="tk">60</text>
<text transform="translate(289.30 506.40) scale(1 1.14)" text-anchor="end" class="tk">-0.5</text>
<text transform="translate(289.30 458.95) scale(1 1.14)" text-anchor="end" class="tk">0</text>
<text transform="translate(289.30 411.50) scale(1 1.14)" text-anchor="end" class="tk">0.5</text>
<text transform="translate(393.55 526.00) scale(1 1.06)" text-anchor="middle" class="lb">Time (s)</text>
<text transform="translate(271.20 456.05) rotate(-90) scale(1 1.06)" text-anchor="middle" class="lb">Amplitude (gal)</text>
<rect x="380.40" y="12.40" width="108.40" height="20.00" fill="#fff" stroke="#8a8a8a" stroke-width="0.8"/>
<path d="M382.20 17.40H399.40" stroke="#0072BD" stroke-width="1.4"/>
<path d="M382.20 26.70H399.40" stroke="#D95319" stroke-width="1.3" stroke-dasharray="2.4 1.1"/>
<text x="401.00" y="20.40" text-anchor="start" class="lg">Original response</text>
<text x="401.00" y="29.80" text-anchor="start" class="lg">Reconstructed response</text>
<rect x="380.90" y="283.50" width="107.90" height="20.00" fill="#fff" stroke="#8a8a8a" stroke-width="0.8"/>
<path d="M382.70 288.50H399.90" stroke="#0072BD" stroke-width="1.4"/>
<path d="M382.70 297.80H399.90" stroke="#D95319" stroke-width="1.3" stroke-dasharray="2.4 1.1"/>
<text x="401.50" y="291.50" text-anchor="start" class="lg">Original response</text>
<text x="401.50" y="300.90" text-anchor="start" class="lg">Reconstructed response</text>
<text x="250" y="272.4" text-anchor="middle" class="cap"><tspan class="pr">(</tspan>a<tspan class="pr">)</tspan></text>
<text x="250" y="542.9" text-anchor="middle" class="cap"><tspan class="pr">(</tspan>b<tspan class="pr">)</tspan></text>
</g>
</svg>
</body></html>
